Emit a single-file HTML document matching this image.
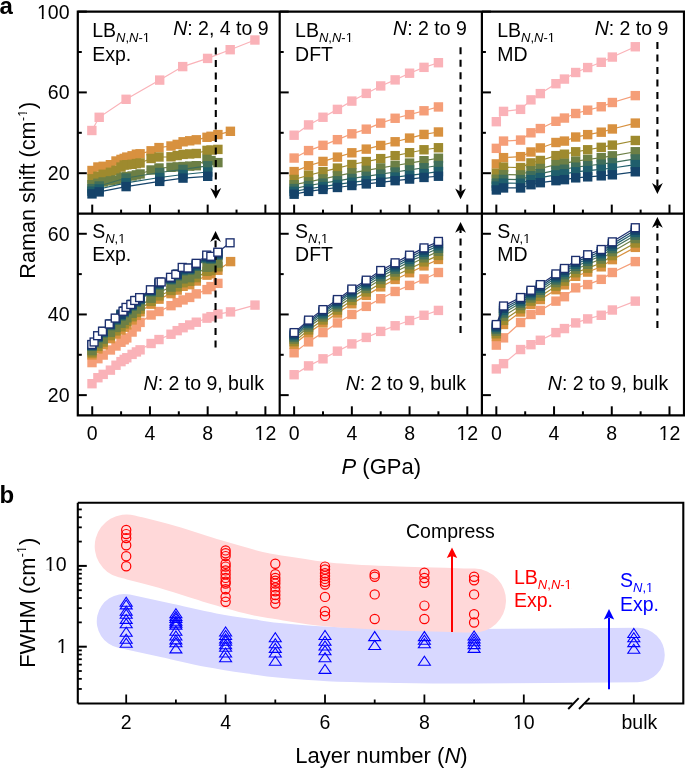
<!DOCTYPE html><html><head><meta charset="utf-8"><style>html,body{margin:0;padding:0;background:#fff;width:685px;height:768px;overflow:hidden}</style></head><body><svg width="685" height="768" viewBox="0 0 685 768" style="position:absolute;left:0;top:0;will-change:transform;font-family:'Liberation Sans',sans-serif">
<rect width="685" height="768" fill="#fff"/>
<path d="M91.86,130.50 L99.20,117.30 L126.10,99.30 L159.70,80.10 L182.70,66.60 L207.60,58.40 L230.20,49.70 L254.90,40.00" fill="none" stroke="#FAB2B8" stroke-width="1.2"/>
<rect x="87.16" y="125.80" width="9.40" height="9.40" fill="#FAB2B8"/>
<rect x="94.50" y="112.60" width="9.40" height="9.40" fill="#FAB2B8"/>
<rect x="121.40" y="94.60" width="9.40" height="9.40" fill="#FAB2B8"/>
<rect x="155.00" y="75.40" width="9.40" height="9.40" fill="#FAB2B8"/>
<rect x="178.00" y="61.90" width="9.40" height="9.40" fill="#FAB2B8"/>
<rect x="202.90" y="53.70" width="9.40" height="9.40" fill="#FAB2B8"/>
<rect x="225.50" y="45.00" width="9.40" height="9.40" fill="#FAB2B8"/>
<rect x="250.20" y="35.30" width="9.40" height="9.40" fill="#FAB2B8"/>
<path d="M92.00,170.50 L97.90,167.00 L103.20,166.30 L110.40,164.70 L116.00,161.00 L121.00,159.41 L124.20,158.40 L126.80,157.10 L132.10,155.80 L136.40,154.20 L140.10,153.80 L151.10,150.80 L159.00,147.60 L171.00,146.00 L177.20,144.40 L183.10,141.80 L189.70,140.80 L196.30,139.80 L207.00,137.30 L211.00,136.31 L217.90,134.60 L230.40,131.30" fill="none" stroke="#D8913F" stroke-width="1.2"/>
<rect x="87.30" y="165.80" width="9.40" height="9.40" fill="#D8913F"/>
<rect x="93.20" y="162.30" width="9.40" height="9.40" fill="#D8913F"/>
<rect x="98.50" y="161.60" width="9.40" height="9.40" fill="#D8913F"/>
<rect x="105.70" y="160.00" width="9.40" height="9.40" fill="#D8913F"/>
<rect x="111.30" y="156.30" width="9.40" height="9.40" fill="#D8913F"/>
<rect x="116.30" y="154.71" width="9.40" height="9.40" fill="#D8913F"/>
<rect x="119.50" y="153.70" width="9.40" height="9.40" fill="#D8913F"/>
<rect x="122.10" y="152.40" width="9.40" height="9.40" fill="#D8913F"/>
<rect x="127.40" y="151.10" width="9.40" height="9.40" fill="#D8913F"/>
<rect x="131.70" y="149.50" width="9.40" height="9.40" fill="#D8913F"/>
<rect x="135.40" y="149.10" width="9.40" height="9.40" fill="#D8913F"/>
<rect x="146.40" y="146.10" width="9.40" height="9.40" fill="#D8913F"/>
<rect x="154.30" y="142.90" width="9.40" height="9.40" fill="#D8913F"/>
<rect x="166.30" y="141.30" width="9.40" height="9.40" fill="#D8913F"/>
<rect x="172.50" y="139.70" width="9.40" height="9.40" fill="#D8913F"/>
<rect x="178.40" y="137.10" width="9.40" height="9.40" fill="#D8913F"/>
<rect x="185.00" y="136.10" width="9.40" height="9.40" fill="#D8913F"/>
<rect x="191.60" y="135.10" width="9.40" height="9.40" fill="#D8913F"/>
<rect x="202.30" y="132.60" width="9.40" height="9.40" fill="#D8913F"/>
<rect x="206.30" y="131.61" width="9.40" height="9.40" fill="#D8913F"/>
<rect x="213.20" y="129.90" width="9.40" height="9.40" fill="#D8913F"/>
<rect x="225.70" y="126.60" width="9.40" height="9.40" fill="#D8913F"/>
<path d="M92.00,178.80 L97.90,176.30 L103.20,174.30 L110.40,172.30 L116.00,170.30 L121.00,167.07 L124.20,165.00 L126.80,164.77 L132.10,164.30 L136.40,163.60 L140.10,163.00 L151.10,158.50 L159.00,157.00 L171.00,156.80 L177.20,155.57 L183.10,154.40 L189.70,153.95 L196.30,153.50 L207.00,150.40 L211.00,150.03 L217.90,149.40" fill="none" stroke="#9E8A2E" stroke-width="1.2"/>
<rect x="87.30" y="174.10" width="9.40" height="9.40" fill="#9E8A2E"/>
<rect x="93.20" y="171.60" width="9.40" height="9.40" fill="#9E8A2E"/>
<rect x="98.50" y="169.60" width="9.40" height="9.40" fill="#9E8A2E"/>
<rect x="105.70" y="167.60" width="9.40" height="9.40" fill="#9E8A2E"/>
<rect x="111.30" y="165.60" width="9.40" height="9.40" fill="#9E8A2E"/>
<rect x="116.30" y="162.37" width="9.40" height="9.40" fill="#9E8A2E"/>
<rect x="119.50" y="160.30" width="9.40" height="9.40" fill="#9E8A2E"/>
<rect x="122.10" y="160.07" width="9.40" height="9.40" fill="#9E8A2E"/>
<rect x="127.40" y="159.60" width="9.40" height="9.40" fill="#9E8A2E"/>
<rect x="131.70" y="158.90" width="9.40" height="9.40" fill="#9E8A2E"/>
<rect x="135.40" y="158.30" width="9.40" height="9.40" fill="#9E8A2E"/>
<rect x="146.40" y="153.80" width="9.40" height="9.40" fill="#9E8A2E"/>
<rect x="154.30" y="152.30" width="9.40" height="9.40" fill="#9E8A2E"/>
<rect x="166.30" y="152.10" width="9.40" height="9.40" fill="#9E8A2E"/>
<rect x="172.50" y="150.87" width="9.40" height="9.40" fill="#9E8A2E"/>
<rect x="178.40" y="149.70" width="9.40" height="9.40" fill="#9E8A2E"/>
<rect x="185.00" y="149.25" width="9.40" height="9.40" fill="#9E8A2E"/>
<rect x="191.60" y="148.80" width="9.40" height="9.40" fill="#9E8A2E"/>
<rect x="202.30" y="145.70" width="9.40" height="9.40" fill="#9E8A2E"/>
<rect x="206.30" y="145.33" width="9.40" height="9.40" fill="#9E8A2E"/>
<rect x="213.20" y="144.70" width="9.40" height="9.40" fill="#9E8A2E"/>
<path d="M92.00,184.70 L97.90,183.25 L103.20,181.97 L110.40,180.86 L116.00,180.00 L121.00,178.12 L124.20,176.97 L126.80,176.65 L132.10,175.97 L136.40,174.90 L140.10,173.96 L151.10,169.97 L159.00,168.00 L171.00,167.30 L177.20,166.91 L183.10,166.53 L189.70,166.12 L196.30,165.70 L207.00,159.40 L211.00,160.57 L217.90,162.60" fill="none" stroke="#6C7F45" stroke-width="1.2"/>
<rect x="87.30" y="180.00" width="9.40" height="9.40" fill="#6C7F45"/>
<rect x="93.20" y="178.55" width="9.40" height="9.40" fill="#6C7F45"/>
<rect x="98.50" y="177.27" width="9.40" height="9.40" fill="#6C7F45"/>
<rect x="105.70" y="176.16" width="9.40" height="9.40" fill="#6C7F45"/>
<rect x="111.30" y="175.30" width="9.40" height="9.40" fill="#6C7F45"/>
<rect x="116.30" y="173.43" width="9.40" height="9.40" fill="#6C7F45"/>
<rect x="119.50" y="172.28" width="9.40" height="9.40" fill="#6C7F45"/>
<rect x="122.10" y="171.95" width="9.40" height="9.40" fill="#6C7F45"/>
<rect x="127.40" y="171.28" width="9.40" height="9.40" fill="#6C7F45"/>
<rect x="131.70" y="170.20" width="9.40" height="9.40" fill="#6C7F45"/>
<rect x="135.40" y="169.26" width="9.40" height="9.40" fill="#6C7F45"/>
<rect x="146.40" y="165.28" width="9.40" height="9.40" fill="#6C7F45"/>
<rect x="154.30" y="163.30" width="9.40" height="9.40" fill="#6C7F45"/>
<rect x="166.30" y="162.60" width="9.40" height="9.40" fill="#6C7F45"/>
<rect x="172.50" y="162.21" width="9.40" height="9.40" fill="#6C7F45"/>
<rect x="178.40" y="161.83" width="9.40" height="9.40" fill="#6C7F45"/>
<rect x="185.00" y="161.42" width="9.40" height="9.40" fill="#6C7F45"/>
<rect x="191.60" y="161.00" width="9.40" height="9.40" fill="#6C7F45"/>
<rect x="202.30" y="154.70" width="9.40" height="9.40" fill="#6C7F45"/>
<rect x="206.30" y="155.87" width="9.40" height="9.40" fill="#6C7F45"/>
<rect x="213.20" y="157.90" width="9.40" height="9.40" fill="#6C7F45"/>
<path d="M92.00,188.60 L99.20,186.00 L126.10,178.00 L159.70,172.50 L183.00,169.40 L207.70,165.80" fill="none" stroke="#3F6E5B" stroke-width="1.2"/>
<rect x="87.30" y="183.90" width="9.40" height="9.40" fill="#3F6E5B"/>
<rect x="94.50" y="181.30" width="9.40" height="9.40" fill="#3F6E5B"/>
<rect x="121.40" y="173.30" width="9.40" height="9.40" fill="#3F6E5B"/>
<rect x="155.00" y="167.80" width="9.40" height="9.40" fill="#3F6E5B"/>
<rect x="178.30" y="164.70" width="9.40" height="9.40" fill="#3F6E5B"/>
<rect x="203.00" y="161.10" width="9.40" height="9.40" fill="#3F6E5B"/>
<path d="M92.00,191.20 L99.20,189.00 L126.10,182.80 L159.70,177.50 L183.00,174.50 L207.70,172.00" fill="none" stroke="#1F5E6C" stroke-width="1.2"/>
<rect x="87.30" y="186.50" width="9.40" height="9.40" fill="#1F5E6C"/>
<rect x="94.50" y="184.30" width="9.40" height="9.40" fill="#1F5E6C"/>
<rect x="121.40" y="178.10" width="9.40" height="9.40" fill="#1F5E6C"/>
<rect x="155.00" y="172.80" width="9.40" height="9.40" fill="#1F5E6C"/>
<rect x="178.30" y="169.80" width="9.40" height="9.40" fill="#1F5E6C"/>
<rect x="203.00" y="167.30" width="9.40" height="9.40" fill="#1F5E6C"/>
<path d="M92.00,193.90 L99.20,191.90 L126.10,186.60 L159.70,181.40 L183.00,178.10 L207.70,176.30" fill="none" stroke="#15436A" stroke-width="1.2"/>
<rect x="87.30" y="189.20" width="9.40" height="9.40" fill="#15436A"/>
<rect x="94.50" y="187.20" width="9.40" height="9.40" fill="#15436A"/>
<rect x="121.40" y="181.90" width="9.40" height="9.40" fill="#15436A"/>
<rect x="155.00" y="176.70" width="9.40" height="9.40" fill="#15436A"/>
<rect x="178.30" y="173.40" width="9.40" height="9.40" fill="#15436A"/>
<rect x="203.00" y="171.60" width="9.40" height="9.40" fill="#15436A"/>
<path d="M294.13,135.22 L308.56,124.92 L322.99,117.25 L337.42,109.37 L351.85,101.09 L366.28,93.41 L380.71,85.94 L395.14,79.88 L409.57,73.21 L424.00,67.35 L438.43,62.71" fill="none" stroke="#FAB2B8" stroke-width="1.2"/>
<rect x="289.43" y="130.52" width="9.40" height="9.40" fill="#FAB2B8"/>
<rect x="303.86" y="120.22" width="9.40" height="9.40" fill="#FAB2B8"/>
<rect x="318.29" y="112.55" width="9.40" height="9.40" fill="#FAB2B8"/>
<rect x="332.72" y="104.67" width="9.40" height="9.40" fill="#FAB2B8"/>
<rect x="347.15" y="96.39" width="9.40" height="9.40" fill="#FAB2B8"/>
<rect x="361.58" y="88.71" width="9.40" height="9.40" fill="#FAB2B8"/>
<rect x="376.01" y="81.24" width="9.40" height="9.40" fill="#FAB2B8"/>
<rect x="390.44" y="75.18" width="9.40" height="9.40" fill="#FAB2B8"/>
<rect x="404.87" y="68.51" width="9.40" height="9.40" fill="#FAB2B8"/>
<rect x="419.30" y="62.65" width="9.40" height="9.40" fill="#FAB2B8"/>
<rect x="433.73" y="58.01" width="9.40" height="9.40" fill="#FAB2B8"/>
<path d="M294.13,158.05 L308.56,150.58 L322.99,145.32 L337.42,139.67 L351.85,133.81 L366.28,129.16 L380.71,123.10 L395.14,118.26 L409.57,114.62 L424.00,110.78 L438.43,106.94" fill="none" stroke="#F59E78" stroke-width="1.2"/>
<rect x="289.43" y="153.35" width="9.40" height="9.40" fill="#F59E78"/>
<rect x="303.86" y="145.88" width="9.40" height="9.40" fill="#F59E78"/>
<rect x="318.29" y="140.62" width="9.40" height="9.40" fill="#F59E78"/>
<rect x="332.72" y="134.97" width="9.40" height="9.40" fill="#F59E78"/>
<rect x="347.15" y="129.11" width="9.40" height="9.40" fill="#F59E78"/>
<rect x="361.58" y="124.46" width="9.40" height="9.40" fill="#F59E78"/>
<rect x="376.01" y="118.40" width="9.40" height="9.40" fill="#F59E78"/>
<rect x="390.44" y="113.56" width="9.40" height="9.40" fill="#F59E78"/>
<rect x="404.87" y="109.92" width="9.40" height="9.40" fill="#F59E78"/>
<rect x="419.30" y="106.08" width="9.40" height="9.40" fill="#F59E78"/>
<rect x="433.73" y="102.24" width="9.40" height="9.40" fill="#F59E78"/>
<path d="M294.13,171.58 L308.56,165.73 L322.99,161.42 L337.42,157.11 L351.85,152.80 L366.28,149.12 L380.71,145.45 L395.14,141.77 L409.57,138.09 L424.00,134.42 L438.43,131.99" fill="none" stroke="#D8913F" stroke-width="1.2"/>
<rect x="289.43" y="166.88" width="9.40" height="9.40" fill="#D8913F"/>
<rect x="303.86" y="161.03" width="9.40" height="9.40" fill="#D8913F"/>
<rect x="318.29" y="156.72" width="9.40" height="9.40" fill="#D8913F"/>
<rect x="332.72" y="152.41" width="9.40" height="9.40" fill="#D8913F"/>
<rect x="347.15" y="148.10" width="9.40" height="9.40" fill="#D8913F"/>
<rect x="361.58" y="144.42" width="9.40" height="9.40" fill="#D8913F"/>
<rect x="376.01" y="140.75" width="9.40" height="9.40" fill="#D8913F"/>
<rect x="390.44" y="137.07" width="9.40" height="9.40" fill="#D8913F"/>
<rect x="404.87" y="133.39" width="9.40" height="9.40" fill="#D8913F"/>
<rect x="419.30" y="129.72" width="9.40" height="9.40" fill="#D8913F"/>
<rect x="433.73" y="127.29" width="9.40" height="9.40" fill="#D8913F"/>
<path d="M294.13,179.46 L308.56,175.22 L322.99,171.65 L337.42,168.08 L351.85,164.51 L366.28,161.56 L380.71,158.62 L395.14,155.67 L409.57,152.72 L424.00,149.77 L438.43,147.75" fill="none" stroke="#9E8A2E" stroke-width="1.2"/>
<rect x="289.43" y="174.76" width="9.40" height="9.40" fill="#9E8A2E"/>
<rect x="303.86" y="170.52" width="9.40" height="9.40" fill="#9E8A2E"/>
<rect x="318.29" y="166.95" width="9.40" height="9.40" fill="#9E8A2E"/>
<rect x="332.72" y="163.38" width="9.40" height="9.40" fill="#9E8A2E"/>
<rect x="347.15" y="159.81" width="9.40" height="9.40" fill="#9E8A2E"/>
<rect x="361.58" y="156.86" width="9.40" height="9.40" fill="#9E8A2E"/>
<rect x="376.01" y="153.92" width="9.40" height="9.40" fill="#9E8A2E"/>
<rect x="390.44" y="150.97" width="9.40" height="9.40" fill="#9E8A2E"/>
<rect x="404.87" y="148.02" width="9.40" height="9.40" fill="#9E8A2E"/>
<rect x="419.30" y="145.07" width="9.40" height="9.40" fill="#9E8A2E"/>
<rect x="433.73" y="143.05" width="9.40" height="9.40" fill="#9E8A2E"/>
<path d="M294.13,184.71 L308.56,181.89 L322.99,178.86 L337.42,175.83 L351.85,172.80 L366.28,170.37 L380.71,167.95 L395.14,165.52 L409.57,163.10 L424.00,160.68 L438.43,158.25" fill="none" stroke="#6C7F45" stroke-width="1.2"/>
<rect x="289.43" y="180.01" width="9.40" height="9.40" fill="#6C7F45"/>
<rect x="303.86" y="177.19" width="9.40" height="9.40" fill="#6C7F45"/>
<rect x="318.29" y="174.16" width="9.40" height="9.40" fill="#6C7F45"/>
<rect x="332.72" y="171.13" width="9.40" height="9.40" fill="#6C7F45"/>
<rect x="347.15" y="168.10" width="9.40" height="9.40" fill="#6C7F45"/>
<rect x="361.58" y="165.67" width="9.40" height="9.40" fill="#6C7F45"/>
<rect x="376.01" y="163.25" width="9.40" height="9.40" fill="#6C7F45"/>
<rect x="390.44" y="160.82" width="9.40" height="9.40" fill="#6C7F45"/>
<rect x="404.87" y="158.40" width="9.40" height="9.40" fill="#6C7F45"/>
<rect x="419.30" y="155.98" width="9.40" height="9.40" fill="#6C7F45"/>
<rect x="433.73" y="153.55" width="9.40" height="9.40" fill="#6C7F45"/>
<path d="M294.13,188.55 L308.56,185.52 L322.99,183.17 L337.42,180.81 L351.85,178.45 L366.28,176.31 L380.71,174.17 L395.14,172.03 L409.57,169.89 L424.00,167.75 L438.43,165.52" fill="none" stroke="#3F6E5B" stroke-width="1.2"/>
<rect x="289.43" y="183.85" width="9.40" height="9.40" fill="#3F6E5B"/>
<rect x="303.86" y="180.82" width="9.40" height="9.40" fill="#3F6E5B"/>
<rect x="318.29" y="178.47" width="9.40" height="9.40" fill="#3F6E5B"/>
<rect x="332.72" y="176.11" width="9.40" height="9.40" fill="#3F6E5B"/>
<rect x="347.15" y="173.75" width="9.40" height="9.40" fill="#3F6E5B"/>
<rect x="361.58" y="171.61" width="9.40" height="9.40" fill="#3F6E5B"/>
<rect x="376.01" y="169.47" width="9.40" height="9.40" fill="#3F6E5B"/>
<rect x="390.44" y="167.33" width="9.40" height="9.40" fill="#3F6E5B"/>
<rect x="404.87" y="165.19" width="9.40" height="9.40" fill="#3F6E5B"/>
<rect x="419.30" y="163.05" width="9.40" height="9.40" fill="#3F6E5B"/>
<rect x="433.73" y="160.82" width="9.40" height="9.40" fill="#3F6E5B"/>
<path d="M294.13,191.38 L308.56,188.75 L322.99,186.60 L337.42,184.44 L351.85,182.29 L366.28,180.55 L380.71,178.82 L395.14,177.08 L409.57,175.34 L424.00,173.60 L438.43,171.58" fill="none" stroke="#1F5E6C" stroke-width="1.2"/>
<rect x="289.43" y="186.68" width="9.40" height="9.40" fill="#1F5E6C"/>
<rect x="303.86" y="184.05" width="9.40" height="9.40" fill="#1F5E6C"/>
<rect x="318.29" y="181.90" width="9.40" height="9.40" fill="#1F5E6C"/>
<rect x="332.72" y="179.74" width="9.40" height="9.40" fill="#1F5E6C"/>
<rect x="347.15" y="177.59" width="9.40" height="9.40" fill="#1F5E6C"/>
<rect x="361.58" y="175.85" width="9.40" height="9.40" fill="#1F5E6C"/>
<rect x="376.01" y="174.12" width="9.40" height="9.40" fill="#1F5E6C"/>
<rect x="390.44" y="172.38" width="9.40" height="9.40" fill="#1F5E6C"/>
<rect x="404.87" y="170.64" width="9.40" height="9.40" fill="#1F5E6C"/>
<rect x="419.30" y="168.90" width="9.40" height="9.40" fill="#1F5E6C"/>
<rect x="433.73" y="166.88" width="9.40" height="9.40" fill="#1F5E6C"/>
<path d="M294.13,194.21 L308.56,191.38 L322.99,189.43 L337.42,187.47 L351.85,185.52 L366.28,183.91 L380.71,182.29 L395.14,180.67 L409.57,179.06 L424.00,177.44 L438.43,176.23" fill="none" stroke="#15436A" stroke-width="1.2"/>
<rect x="289.43" y="189.51" width="9.40" height="9.40" fill="#15436A"/>
<rect x="303.86" y="186.68" width="9.40" height="9.40" fill="#15436A"/>
<rect x="318.29" y="184.73" width="9.40" height="9.40" fill="#15436A"/>
<rect x="332.72" y="182.77" width="9.40" height="9.40" fill="#15436A"/>
<rect x="347.15" y="180.82" width="9.40" height="9.40" fill="#15436A"/>
<rect x="361.58" y="179.21" width="9.40" height="9.40" fill="#15436A"/>
<rect x="376.01" y="177.59" width="9.40" height="9.40" fill="#15436A"/>
<rect x="390.44" y="175.97" width="9.40" height="9.40" fill="#15436A"/>
<rect x="404.87" y="174.36" width="9.40" height="9.40" fill="#15436A"/>
<rect x="419.30" y="172.74" width="9.40" height="9.40" fill="#15436A"/>
<rect x="433.73" y="171.53" width="9.40" height="9.40" fill="#15436A"/>
<path d="M496.33,121.69 L503.54,111.39 L520.57,109.37 L530.96,99.87 L540.34,93.61 L555.93,83.71 L564.44,79.07 L575.69,72.50 L587.67,67.55 L601.24,62.30 L612.35,57.05 L635.29,46.75" fill="none" stroke="#FAB2B8" stroke-width="1.2"/>
<rect x="491.63" y="116.99" width="9.40" height="9.40" fill="#FAB2B8"/>
<rect x="498.84" y="106.69" width="9.40" height="9.40" fill="#FAB2B8"/>
<rect x="515.87" y="104.67" width="9.40" height="9.40" fill="#FAB2B8"/>
<rect x="526.26" y="95.17" width="9.40" height="9.40" fill="#FAB2B8"/>
<rect x="535.64" y="88.91" width="9.40" height="9.40" fill="#FAB2B8"/>
<rect x="551.23" y="79.01" width="9.40" height="9.40" fill="#FAB2B8"/>
<rect x="559.74" y="74.37" width="9.40" height="9.40" fill="#FAB2B8"/>
<rect x="570.99" y="67.80" width="9.40" height="9.40" fill="#FAB2B8"/>
<rect x="582.97" y="62.85" width="9.40" height="9.40" fill="#FAB2B8"/>
<rect x="596.54" y="57.60" width="9.40" height="9.40" fill="#FAB2B8"/>
<rect x="607.65" y="52.35" width="9.40" height="9.40" fill="#FAB2B8"/>
<rect x="630.59" y="42.05" width="9.40" height="9.40" fill="#FAB2B8"/>
<path d="M496.33,148.35 L503.54,141.08 L520.57,140.07 L530.96,132.80 L540.34,128.56 L555.93,121.29 L564.44,118.05 L575.69,113.51 L587.67,110.18 L601.24,106.74 L612.35,102.50 L635.29,95.63" fill="none" stroke="#F59E78" stroke-width="1.2"/>
<rect x="491.63" y="143.65" width="9.40" height="9.40" fill="#F59E78"/>
<rect x="498.84" y="136.38" width="9.40" height="9.40" fill="#F59E78"/>
<rect x="515.87" y="135.37" width="9.40" height="9.40" fill="#F59E78"/>
<rect x="526.26" y="128.10" width="9.40" height="9.40" fill="#F59E78"/>
<rect x="535.64" y="123.86" width="9.40" height="9.40" fill="#F59E78"/>
<rect x="551.23" y="116.59" width="9.40" height="9.40" fill="#F59E78"/>
<rect x="559.74" y="113.35" width="9.40" height="9.40" fill="#F59E78"/>
<rect x="570.99" y="108.81" width="9.40" height="9.40" fill="#F59E78"/>
<rect x="582.97" y="105.48" width="9.40" height="9.40" fill="#F59E78"/>
<rect x="596.54" y="102.04" width="9.40" height="9.40" fill="#F59E78"/>
<rect x="607.65" y="97.80" width="9.40" height="9.40" fill="#F59E78"/>
<rect x="630.59" y="90.93" width="9.40" height="9.40" fill="#F59E78"/>
<path d="M496.33,163.91 L503.54,157.65 L520.57,156.64 L530.96,151.99 L540.34,147.95 L555.93,142.50 L564.44,141.08 L575.69,137.04 L587.67,134.62 L601.24,132.19 L612.35,128.96 L635.29,123.10" fill="none" stroke="#D8913F" stroke-width="1.2"/>
<rect x="491.63" y="159.21" width="9.40" height="9.40" fill="#D8913F"/>
<rect x="498.84" y="152.95" width="9.40" height="9.40" fill="#D8913F"/>
<rect x="515.87" y="151.94" width="9.40" height="9.40" fill="#D8913F"/>
<rect x="526.26" y="147.29" width="9.40" height="9.40" fill="#D8913F"/>
<rect x="535.64" y="143.25" width="9.40" height="9.40" fill="#D8913F"/>
<rect x="551.23" y="137.80" width="9.40" height="9.40" fill="#D8913F"/>
<rect x="559.74" y="136.38" width="9.40" height="9.40" fill="#D8913F"/>
<rect x="570.99" y="132.34" width="9.40" height="9.40" fill="#D8913F"/>
<rect x="582.97" y="129.92" width="9.40" height="9.40" fill="#D8913F"/>
<rect x="596.54" y="127.49" width="9.40" height="9.40" fill="#D8913F"/>
<rect x="607.65" y="124.26" width="9.40" height="9.40" fill="#D8913F"/>
<rect x="630.59" y="118.40" width="9.40" height="9.40" fill="#D8913F"/>
<path d="M496.33,173.20 L503.54,167.14 L520.57,167.54 L530.96,162.90 L540.34,160.47 L555.93,155.63 L564.44,154.21 L575.69,151.79 L587.67,149.77 L601.24,147.34 L612.35,145.12 L635.29,140.48" fill="none" stroke="#9E8A2E" stroke-width="1.2"/>
<rect x="491.63" y="168.50" width="9.40" height="9.40" fill="#9E8A2E"/>
<rect x="498.84" y="162.44" width="9.40" height="9.40" fill="#9E8A2E"/>
<rect x="515.87" y="162.84" width="9.40" height="9.40" fill="#9E8A2E"/>
<rect x="526.26" y="158.20" width="9.40" height="9.40" fill="#9E8A2E"/>
<rect x="535.64" y="155.77" width="9.40" height="9.40" fill="#9E8A2E"/>
<rect x="551.23" y="150.93" width="9.40" height="9.40" fill="#9E8A2E"/>
<rect x="559.74" y="149.51" width="9.40" height="9.40" fill="#9E8A2E"/>
<rect x="570.99" y="147.09" width="9.40" height="9.40" fill="#9E8A2E"/>
<rect x="582.97" y="145.07" width="9.40" height="9.40" fill="#9E8A2E"/>
<rect x="596.54" y="142.64" width="9.40" height="9.40" fill="#9E8A2E"/>
<rect x="607.65" y="140.42" width="9.40" height="9.40" fill="#9E8A2E"/>
<rect x="630.59" y="135.78" width="9.40" height="9.40" fill="#9E8A2E"/>
<path d="M496.33,179.24 L503.54,174.63 L520.57,174.89 L530.96,170.75 L540.34,168.47 L555.93,164.64 L564.44,163.37 L575.69,161.17 L587.67,159.51 L601.24,157.60 L612.35,155.81 L635.29,151.75" fill="none" stroke="#6C7F45" stroke-width="1.2"/>
<rect x="491.63" y="174.54" width="9.40" height="9.40" fill="#6C7F45"/>
<rect x="498.84" y="169.93" width="9.40" height="9.40" fill="#6C7F45"/>
<rect x="515.87" y="170.19" width="9.40" height="9.40" fill="#6C7F45"/>
<rect x="526.26" y="166.05" width="9.40" height="9.40" fill="#6C7F45"/>
<rect x="535.64" y="163.77" width="9.40" height="9.40" fill="#6C7F45"/>
<rect x="551.23" y="159.94" width="9.40" height="9.40" fill="#6C7F45"/>
<rect x="559.74" y="158.67" width="9.40" height="9.40" fill="#6C7F45"/>
<rect x="570.99" y="156.47" width="9.40" height="9.40" fill="#6C7F45"/>
<rect x="582.97" y="154.81" width="9.40" height="9.40" fill="#6C7F45"/>
<rect x="596.54" y="152.90" width="9.40" height="9.40" fill="#6C7F45"/>
<rect x="607.65" y="151.11" width="9.40" height="9.40" fill="#6C7F45"/>
<rect x="630.59" y="147.05" width="9.40" height="9.40" fill="#6C7F45"/>
<path d="M496.33,183.09 L503.54,179.42 L520.57,179.58 L530.96,175.77 L540.34,173.58 L555.93,170.40 L564.44,169.23 L575.69,167.16 L587.67,165.74 L601.24,164.15 L612.35,162.64 L635.29,158.95" fill="none" stroke="#3F6E5B" stroke-width="1.2"/>
<rect x="491.63" y="178.39" width="9.40" height="9.40" fill="#3F6E5B"/>
<rect x="498.84" y="174.72" width="9.40" height="9.40" fill="#3F6E5B"/>
<rect x="515.87" y="174.88" width="9.40" height="9.40" fill="#3F6E5B"/>
<rect x="526.26" y="171.07" width="9.40" height="9.40" fill="#3F6E5B"/>
<rect x="535.64" y="168.88" width="9.40" height="9.40" fill="#3F6E5B"/>
<rect x="551.23" y="165.70" width="9.40" height="9.40" fill="#3F6E5B"/>
<rect x="559.74" y="164.53" width="9.40" height="9.40" fill="#3F6E5B"/>
<rect x="570.99" y="162.46" width="9.40" height="9.40" fill="#3F6E5B"/>
<rect x="582.97" y="161.04" width="9.40" height="9.40" fill="#3F6E5B"/>
<rect x="596.54" y="159.45" width="9.40" height="9.40" fill="#3F6E5B"/>
<rect x="607.65" y="157.94" width="9.40" height="9.40" fill="#3F6E5B"/>
<rect x="630.59" y="154.25" width="9.40" height="9.40" fill="#3F6E5B"/>
<path d="M496.33,186.11 L503.54,183.16 L520.57,183.25 L530.96,179.70 L540.34,177.58 L555.93,174.91 L564.44,173.81 L575.69,171.85 L587.67,170.61 L601.24,169.28 L612.35,167.99 L635.29,164.58" fill="none" stroke="#1F5E6C" stroke-width="1.2"/>
<rect x="491.63" y="181.41" width="9.40" height="9.40" fill="#1F5E6C"/>
<rect x="498.84" y="178.46" width="9.40" height="9.40" fill="#1F5E6C"/>
<rect x="515.87" y="178.55" width="9.40" height="9.40" fill="#1F5E6C"/>
<rect x="526.26" y="175.00" width="9.40" height="9.40" fill="#1F5E6C"/>
<rect x="535.64" y="172.88" width="9.40" height="9.40" fill="#1F5E6C"/>
<rect x="551.23" y="170.21" width="9.40" height="9.40" fill="#1F5E6C"/>
<rect x="559.74" y="169.11" width="9.40" height="9.40" fill="#1F5E6C"/>
<rect x="570.99" y="167.15" width="9.40" height="9.40" fill="#1F5E6C"/>
<rect x="582.97" y="165.91" width="9.40" height="9.40" fill="#1F5E6C"/>
<rect x="596.54" y="164.58" width="9.40" height="9.40" fill="#1F5E6C"/>
<rect x="607.65" y="163.29" width="9.40" height="9.40" fill="#1F5E6C"/>
<rect x="630.59" y="159.88" width="9.40" height="9.40" fill="#1F5E6C"/>
<path d="M496.33,189.97 L503.54,187.95 L520.57,187.95 L530.96,184.71 L540.34,182.69 L555.93,180.67 L564.44,179.66 L575.69,177.85 L587.67,176.84 L601.24,175.83 L612.35,174.82 L635.29,171.79" fill="none" stroke="#15436A" stroke-width="1.2"/>
<rect x="491.63" y="185.27" width="9.40" height="9.40" fill="#15436A"/>
<rect x="498.84" y="183.25" width="9.40" height="9.40" fill="#15436A"/>
<rect x="515.87" y="183.25" width="9.40" height="9.40" fill="#15436A"/>
<rect x="526.26" y="180.01" width="9.40" height="9.40" fill="#15436A"/>
<rect x="535.64" y="177.99" width="9.40" height="9.40" fill="#15436A"/>
<rect x="551.23" y="175.97" width="9.40" height="9.40" fill="#15436A"/>
<rect x="559.74" y="174.96" width="9.40" height="9.40" fill="#15436A"/>
<rect x="570.99" y="173.15" width="9.40" height="9.40" fill="#15436A"/>
<rect x="582.97" y="172.14" width="9.40" height="9.40" fill="#15436A"/>
<rect x="596.54" y="171.13" width="9.40" height="9.40" fill="#15436A"/>
<rect x="607.65" y="170.12" width="9.40" height="9.40" fill="#15436A"/>
<rect x="630.59" y="167.09" width="9.40" height="9.40" fill="#15436A"/>
<path d="M92.00,383.70 L97.90,377.72 L103.20,374.37 L110.40,370.14 L116.00,365.24 L121.00,361.63 L124.20,359.41 L126.80,357.75 L132.10,354.39 L136.40,351.94 L140.10,349.84 L151.10,343.50 L159.00,339.55 L171.00,334.23 L177.20,330.64 L183.10,327.71 L189.70,324.96 L196.30,322.21 L207.00,318.15 L211.00,316.64 L217.90,314.04 L230.50,311.90 L255.00,305.10" fill="none" stroke="#FAB2B8" stroke-width="1.2"/>
<rect x="87.30" y="379.00" width="9.40" height="9.40" fill="#FAB2B8"/>
<rect x="93.20" y="373.02" width="9.40" height="9.40" fill="#FAB2B8"/>
<rect x="98.50" y="369.67" width="9.40" height="9.40" fill="#FAB2B8"/>
<rect x="105.70" y="365.44" width="9.40" height="9.40" fill="#FAB2B8"/>
<rect x="111.30" y="360.54" width="9.40" height="9.40" fill="#FAB2B8"/>
<rect x="116.30" y="356.93" width="9.40" height="9.40" fill="#FAB2B8"/>
<rect x="119.50" y="354.71" width="9.40" height="9.40" fill="#FAB2B8"/>
<rect x="122.10" y="353.05" width="9.40" height="9.40" fill="#FAB2B8"/>
<rect x="127.40" y="349.69" width="9.40" height="9.40" fill="#FAB2B8"/>
<rect x="131.70" y="347.24" width="9.40" height="9.40" fill="#FAB2B8"/>
<rect x="135.40" y="345.14" width="9.40" height="9.40" fill="#FAB2B8"/>
<rect x="146.40" y="338.80" width="9.40" height="9.40" fill="#FAB2B8"/>
<rect x="154.30" y="334.85" width="9.40" height="9.40" fill="#FAB2B8"/>
<rect x="166.30" y="329.53" width="9.40" height="9.40" fill="#FAB2B8"/>
<rect x="172.50" y="325.94" width="9.40" height="9.40" fill="#FAB2B8"/>
<rect x="178.40" y="323.01" width="9.40" height="9.40" fill="#FAB2B8"/>
<rect x="185.00" y="320.26" width="9.40" height="9.40" fill="#FAB2B8"/>
<rect x="191.60" y="317.51" width="9.40" height="9.40" fill="#FAB2B8"/>
<rect x="202.30" y="313.45" width="9.40" height="9.40" fill="#FAB2B8"/>
<rect x="206.30" y="311.94" width="9.40" height="9.40" fill="#FAB2B8"/>
<rect x="213.20" y="309.34" width="9.40" height="9.40" fill="#FAB2B8"/>
<rect x="225.80" y="307.20" width="9.40" height="9.40" fill="#FAB2B8"/>
<rect x="250.30" y="300.40" width="9.40" height="9.40" fill="#FAB2B8"/>
<path d="M92.00,362.60 L97.90,358.69 L103.20,355.05 L110.40,349.97 L116.00,346.00 L121.00,342.25 L124.20,339.85 L126.80,337.90 L132.10,332.05 L136.40,326.86 L140.10,322.40 L151.10,315.01 L159.00,311.50 L171.00,305.65 L177.20,302.58 L183.10,299.93 L189.70,297.43 L196.30,293.87 L207.00,289.60 L211.00,286.60 L217.90,283.34" fill="none" stroke="#F59E78" stroke-width="1.2"/>
<rect x="87.30" y="357.90" width="9.40" height="9.40" fill="#F59E78"/>
<rect x="93.20" y="353.99" width="9.40" height="9.40" fill="#F59E78"/>
<rect x="98.50" y="350.35" width="9.40" height="9.40" fill="#F59E78"/>
<rect x="105.70" y="345.27" width="9.40" height="9.40" fill="#F59E78"/>
<rect x="111.30" y="341.30" width="9.40" height="9.40" fill="#F59E78"/>
<rect x="116.30" y="337.55" width="9.40" height="9.40" fill="#F59E78"/>
<rect x="119.50" y="335.15" width="9.40" height="9.40" fill="#F59E78"/>
<rect x="122.10" y="333.20" width="9.40" height="9.40" fill="#F59E78"/>
<rect x="127.40" y="327.35" width="9.40" height="9.40" fill="#F59E78"/>
<rect x="131.70" y="322.16" width="9.40" height="9.40" fill="#F59E78"/>
<rect x="135.40" y="317.70" width="9.40" height="9.40" fill="#F59E78"/>
<rect x="146.40" y="310.31" width="9.40" height="9.40" fill="#F59E78"/>
<rect x="154.30" y="306.80" width="9.40" height="9.40" fill="#F59E78"/>
<rect x="166.30" y="300.95" width="9.40" height="9.40" fill="#F59E78"/>
<rect x="172.50" y="297.88" width="9.40" height="9.40" fill="#F59E78"/>
<rect x="178.40" y="295.23" width="9.40" height="9.40" fill="#F59E78"/>
<rect x="185.00" y="292.73" width="9.40" height="9.40" fill="#F59E78"/>
<rect x="191.60" y="289.17" width="9.40" height="9.40" fill="#F59E78"/>
<rect x="202.30" y="284.90" width="9.40" height="9.40" fill="#F59E78"/>
<rect x="206.30" y="281.90" width="9.40" height="9.40" fill="#F59E78"/>
<rect x="213.20" y="278.64" width="9.40" height="9.40" fill="#F59E78"/>
<path d="M92.00,354.91 L97.90,348.92 L103.20,344.72 L110.40,338.60 L116.00,333.99 L121.00,329.98 L124.20,327.20 L126.80,324.89 L132.10,319.92 L136.40,315.37 L140.10,311.83 L151.10,304.16 L159.00,299.15 L171.00,293.63 L177.20,290.10 L183.10,286.31 L189.70,284.66 L196.30,281.00 L207.00,275.15 L211.00,273.82 L217.90,270.23 L230.60,261.60" fill="none" stroke="#D8913F" stroke-width="1.2"/>
<rect x="87.30" y="350.21" width="9.40" height="9.40" fill="#D8913F"/>
<rect x="93.20" y="344.22" width="9.40" height="9.40" fill="#D8913F"/>
<rect x="98.50" y="340.02" width="9.40" height="9.40" fill="#D8913F"/>
<rect x="105.70" y="333.90" width="9.40" height="9.40" fill="#D8913F"/>
<rect x="111.30" y="329.29" width="9.40" height="9.40" fill="#D8913F"/>
<rect x="116.30" y="325.28" width="9.40" height="9.40" fill="#D8913F"/>
<rect x="119.50" y="322.50" width="9.40" height="9.40" fill="#D8913F"/>
<rect x="122.10" y="320.19" width="9.40" height="9.40" fill="#D8913F"/>
<rect x="127.40" y="315.22" width="9.40" height="9.40" fill="#D8913F"/>
<rect x="131.70" y="310.67" width="9.40" height="9.40" fill="#D8913F"/>
<rect x="135.40" y="307.13" width="9.40" height="9.40" fill="#D8913F"/>
<rect x="146.40" y="299.46" width="9.40" height="9.40" fill="#D8913F"/>
<rect x="154.30" y="294.45" width="9.40" height="9.40" fill="#D8913F"/>
<rect x="166.30" y="288.93" width="9.40" height="9.40" fill="#D8913F"/>
<rect x="172.50" y="285.40" width="9.40" height="9.40" fill="#D8913F"/>
<rect x="178.40" y="281.61" width="9.40" height="9.40" fill="#D8913F"/>
<rect x="185.00" y="279.96" width="9.40" height="9.40" fill="#D8913F"/>
<rect x="191.60" y="276.30" width="9.40" height="9.40" fill="#D8913F"/>
<rect x="202.30" y="270.45" width="9.40" height="9.40" fill="#D8913F"/>
<rect x="206.30" y="269.12" width="9.40" height="9.40" fill="#D8913F"/>
<rect x="213.20" y="265.53" width="9.40" height="9.40" fill="#D8913F"/>
<rect x="225.90" y="256.90" width="9.40" height="9.40" fill="#D8913F"/>
<path d="M92.00,352.89 L97.90,346.36 L103.20,342.02 L110.40,335.62 L116.00,330.84 L121.00,326.77 L124.20,323.89 L126.80,321.48 L132.10,316.74 L136.40,312.36 L140.10,309.06 L151.10,301.32 L159.00,295.91 L171.00,290.48 L177.20,286.83 L183.10,282.74 L189.70,281.32 L196.30,277.63 L207.00,271.36 L211.00,270.48 L217.90,266.79" fill="none" stroke="#9E8A2E" stroke-width="1.2"/>
<rect x="87.30" y="348.19" width="9.40" height="9.40" fill="#9E8A2E"/>
<rect x="93.20" y="341.66" width="9.40" height="9.40" fill="#9E8A2E"/>
<rect x="98.50" y="337.32" width="9.40" height="9.40" fill="#9E8A2E"/>
<rect x="105.70" y="330.92" width="9.40" height="9.40" fill="#9E8A2E"/>
<rect x="111.30" y="326.14" width="9.40" height="9.40" fill="#9E8A2E"/>
<rect x="116.30" y="322.07" width="9.40" height="9.40" fill="#9E8A2E"/>
<rect x="119.50" y="319.19" width="9.40" height="9.40" fill="#9E8A2E"/>
<rect x="122.10" y="316.78" width="9.40" height="9.40" fill="#9E8A2E"/>
<rect x="127.40" y="312.04" width="9.40" height="9.40" fill="#9E8A2E"/>
<rect x="131.70" y="307.66" width="9.40" height="9.40" fill="#9E8A2E"/>
<rect x="135.40" y="304.36" width="9.40" height="9.40" fill="#9E8A2E"/>
<rect x="146.40" y="296.62" width="9.40" height="9.40" fill="#9E8A2E"/>
<rect x="154.30" y="291.21" width="9.40" height="9.40" fill="#9E8A2E"/>
<rect x="166.30" y="285.78" width="9.40" height="9.40" fill="#9E8A2E"/>
<rect x="172.50" y="282.13" width="9.40" height="9.40" fill="#9E8A2E"/>
<rect x="178.40" y="278.04" width="9.40" height="9.40" fill="#9E8A2E"/>
<rect x="185.00" y="276.62" width="9.40" height="9.40" fill="#9E8A2E"/>
<rect x="191.60" y="272.93" width="9.40" height="9.40" fill="#9E8A2E"/>
<rect x="202.30" y="266.66" width="9.40" height="9.40" fill="#9E8A2E"/>
<rect x="206.30" y="265.78" width="9.40" height="9.40" fill="#9E8A2E"/>
<rect x="213.20" y="262.09" width="9.40" height="9.40" fill="#9E8A2E"/>
<path d="M92.00,350.69 L97.90,343.57 L103.20,339.07 L110.40,332.37 L116.00,327.41 L121.00,323.27 L124.20,320.28 L126.80,317.76 L132.10,313.28 L136.40,309.07 L140.10,306.05 L151.10,298.22 L159.00,292.38 L171.00,287.05 L177.20,283.27 L183.10,278.85 L189.70,277.67 L196.30,273.95 L207.00,267.23 L211.00,266.83 L217.90,263.05" fill="none" stroke="#6C7F45" stroke-width="1.2"/>
<rect x="87.30" y="345.99" width="9.40" height="9.40" fill="#6C7F45"/>
<rect x="93.20" y="338.87" width="9.40" height="9.40" fill="#6C7F45"/>
<rect x="98.50" y="334.37" width="9.40" height="9.40" fill="#6C7F45"/>
<rect x="105.70" y="327.67" width="9.40" height="9.40" fill="#6C7F45"/>
<rect x="111.30" y="322.71" width="9.40" height="9.40" fill="#6C7F45"/>
<rect x="116.30" y="318.57" width="9.40" height="9.40" fill="#6C7F45"/>
<rect x="119.50" y="315.58" width="9.40" height="9.40" fill="#6C7F45"/>
<rect x="122.10" y="313.06" width="9.40" height="9.40" fill="#6C7F45"/>
<rect x="127.40" y="308.58" width="9.40" height="9.40" fill="#6C7F45"/>
<rect x="131.70" y="304.37" width="9.40" height="9.40" fill="#6C7F45"/>
<rect x="135.40" y="301.35" width="9.40" height="9.40" fill="#6C7F45"/>
<rect x="146.40" y="293.52" width="9.40" height="9.40" fill="#6C7F45"/>
<rect x="154.30" y="287.68" width="9.40" height="9.40" fill="#6C7F45"/>
<rect x="166.30" y="282.35" width="9.40" height="9.40" fill="#6C7F45"/>
<rect x="172.50" y="278.57" width="9.40" height="9.40" fill="#6C7F45"/>
<rect x="178.40" y="274.15" width="9.40" height="9.40" fill="#6C7F45"/>
<rect x="185.00" y="272.97" width="9.40" height="9.40" fill="#6C7F45"/>
<rect x="191.60" y="269.25" width="9.40" height="9.40" fill="#6C7F45"/>
<rect x="202.30" y="262.53" width="9.40" height="9.40" fill="#6C7F45"/>
<rect x="206.30" y="262.13" width="9.40" height="9.40" fill="#6C7F45"/>
<rect x="213.20" y="258.35" width="9.40" height="9.40" fill="#6C7F45"/>
<path d="M92.00,346.11 L97.90,337.75 L103.20,332.92 L110.40,325.61 L116.00,320.26 L121.00,315.96 L124.20,312.75 L126.80,310.01 L132.10,306.06 L136.40,302.23 L140.10,299.76 L151.10,291.76 L159.00,285.03 L171.00,279.89 L177.20,275.84 L183.10,270.74 L189.70,270.07 L196.30,266.29 L207.00,258.63 L211.00,259.22 L217.90,255.24" fill="none" stroke="#3F6E5B" stroke-width="1.2"/>
<rect x="87.30" y="341.41" width="9.40" height="9.40" fill="#3F6E5B"/>
<rect x="93.20" y="333.05" width="9.40" height="9.40" fill="#3F6E5B"/>
<rect x="98.50" y="328.22" width="9.40" height="9.40" fill="#3F6E5B"/>
<rect x="105.70" y="320.91" width="9.40" height="9.40" fill="#3F6E5B"/>
<rect x="111.30" y="315.56" width="9.40" height="9.40" fill="#3F6E5B"/>
<rect x="116.30" y="311.26" width="9.40" height="9.40" fill="#3F6E5B"/>
<rect x="119.50" y="308.05" width="9.40" height="9.40" fill="#3F6E5B"/>
<rect x="122.10" y="305.31" width="9.40" height="9.40" fill="#3F6E5B"/>
<rect x="127.40" y="301.36" width="9.40" height="9.40" fill="#3F6E5B"/>
<rect x="131.70" y="297.53" width="9.40" height="9.40" fill="#3F6E5B"/>
<rect x="135.40" y="295.06" width="9.40" height="9.40" fill="#3F6E5B"/>
<rect x="146.40" y="287.06" width="9.40" height="9.40" fill="#3F6E5B"/>
<rect x="154.30" y="280.33" width="9.40" height="9.40" fill="#3F6E5B"/>
<rect x="166.30" y="275.19" width="9.40" height="9.40" fill="#3F6E5B"/>
<rect x="172.50" y="271.14" width="9.40" height="9.40" fill="#3F6E5B"/>
<rect x="178.40" y="266.04" width="9.40" height="9.40" fill="#3F6E5B"/>
<rect x="185.00" y="265.37" width="9.40" height="9.40" fill="#3F6E5B"/>
<rect x="191.60" y="261.59" width="9.40" height="9.40" fill="#3F6E5B"/>
<rect x="202.30" y="253.93" width="9.40" height="9.40" fill="#3F6E5B"/>
<rect x="206.30" y="254.52" width="9.40" height="9.40" fill="#3F6E5B"/>
<rect x="213.20" y="250.54" width="9.40" height="9.40" fill="#3F6E5B"/>
<path d="M92.00,345.56 L97.90,337.05 L103.20,332.18 L110.40,324.79 L116.00,319.40 L121.00,315.09 L124.20,311.85 L126.80,309.09 L132.10,305.19 L136.40,301.41 L140.10,299.00 L151.10,290.98 L159.00,284.15 L171.00,279.03 L177.20,274.95 L183.10,269.76 L189.70,269.15 L196.30,265.37 L207.00,257.60 L211.00,258.31 L217.90,254.31" fill="none" stroke="#1F5E6C" stroke-width="1.2"/>
<rect x="87.30" y="340.86" width="9.40" height="9.40" fill="#1F5E6C"/>
<rect x="93.20" y="332.35" width="9.40" height="9.40" fill="#1F5E6C"/>
<rect x="98.50" y="327.48" width="9.40" height="9.40" fill="#1F5E6C"/>
<rect x="105.70" y="320.09" width="9.40" height="9.40" fill="#1F5E6C"/>
<rect x="111.30" y="314.70" width="9.40" height="9.40" fill="#1F5E6C"/>
<rect x="116.30" y="310.39" width="9.40" height="9.40" fill="#1F5E6C"/>
<rect x="119.50" y="307.15" width="9.40" height="9.40" fill="#1F5E6C"/>
<rect x="122.10" y="304.39" width="9.40" height="9.40" fill="#1F5E6C"/>
<rect x="127.40" y="300.49" width="9.40" height="9.40" fill="#1F5E6C"/>
<rect x="131.70" y="296.71" width="9.40" height="9.40" fill="#1F5E6C"/>
<rect x="135.40" y="294.30" width="9.40" height="9.40" fill="#1F5E6C"/>
<rect x="146.40" y="286.28" width="9.40" height="9.40" fill="#1F5E6C"/>
<rect x="154.30" y="279.45" width="9.40" height="9.40" fill="#1F5E6C"/>
<rect x="166.30" y="274.33" width="9.40" height="9.40" fill="#1F5E6C"/>
<rect x="172.50" y="270.25" width="9.40" height="9.40" fill="#1F5E6C"/>
<rect x="178.40" y="265.06" width="9.40" height="9.40" fill="#1F5E6C"/>
<rect x="185.00" y="264.45" width="9.40" height="9.40" fill="#1F5E6C"/>
<rect x="191.60" y="260.67" width="9.40" height="9.40" fill="#1F5E6C"/>
<rect x="202.30" y="252.90" width="9.40" height="9.40" fill="#1F5E6C"/>
<rect x="206.30" y="253.61" width="9.40" height="9.40" fill="#1F5E6C"/>
<rect x="213.20" y="249.61" width="9.40" height="9.40" fill="#1F5E6C"/>
<path d="M92.00,345.02 L97.90,336.36 L103.20,331.44 L110.40,323.98 L116.00,318.55 L121.00,314.21 L124.20,310.94 L126.80,308.16 L132.10,304.32 L136.40,300.59 L140.10,298.25 L151.10,290.21 L159.00,283.27 L171.00,278.17 L177.20,274.06 L183.10,268.79 L189.70,268.24 L196.30,264.45 L207.00,256.56 L211.00,257.40 L217.90,253.37" fill="none" stroke="#15436A" stroke-width="1.2"/>
<rect x="87.30" y="340.32" width="9.40" height="9.40" fill="#15436A"/>
<rect x="93.20" y="331.66" width="9.40" height="9.40" fill="#15436A"/>
<rect x="98.50" y="326.74" width="9.40" height="9.40" fill="#15436A"/>
<rect x="105.70" y="319.28" width="9.40" height="9.40" fill="#15436A"/>
<rect x="111.30" y="313.85" width="9.40" height="9.40" fill="#15436A"/>
<rect x="116.30" y="309.51" width="9.40" height="9.40" fill="#15436A"/>
<rect x="119.50" y="306.24" width="9.40" height="9.40" fill="#15436A"/>
<rect x="122.10" y="303.46" width="9.40" height="9.40" fill="#15436A"/>
<rect x="127.40" y="299.62" width="9.40" height="9.40" fill="#15436A"/>
<rect x="131.70" y="295.89" width="9.40" height="9.40" fill="#15436A"/>
<rect x="135.40" y="293.55" width="9.40" height="9.40" fill="#15436A"/>
<rect x="146.40" y="285.51" width="9.40" height="9.40" fill="#15436A"/>
<rect x="154.30" y="278.57" width="9.40" height="9.40" fill="#15436A"/>
<rect x="166.30" y="273.47" width="9.40" height="9.40" fill="#15436A"/>
<rect x="172.50" y="269.36" width="9.40" height="9.40" fill="#15436A"/>
<rect x="178.40" y="264.09" width="9.40" height="9.40" fill="#15436A"/>
<rect x="185.00" y="263.54" width="9.40" height="9.40" fill="#15436A"/>
<rect x="191.60" y="259.75" width="9.40" height="9.40" fill="#15436A"/>
<rect x="202.30" y="251.86" width="9.40" height="9.40" fill="#15436A"/>
<rect x="206.30" y="252.70" width="9.40" height="9.40" fill="#15436A"/>
<rect x="213.20" y="248.67" width="9.40" height="9.40" fill="#15436A"/>
<path d="M294.13,374.72 L308.56,365.88 L322.99,358.82 L337.42,351.16 L351.85,343.90 L366.28,337.44 L380.71,331.39 L395.14,325.75 L409.57,320.50 L424.00,315.26 L438.43,310.42" fill="none" stroke="#FAB2B8" stroke-width="1.2"/>
<rect x="289.43" y="370.02" width="9.40" height="9.40" fill="#FAB2B8"/>
<rect x="303.86" y="361.18" width="9.40" height="9.40" fill="#FAB2B8"/>
<rect x="318.29" y="354.12" width="9.40" height="9.40" fill="#FAB2B8"/>
<rect x="332.72" y="346.46" width="9.40" height="9.40" fill="#FAB2B8"/>
<rect x="347.15" y="339.20" width="9.40" height="9.40" fill="#FAB2B8"/>
<rect x="361.58" y="332.74" width="9.40" height="9.40" fill="#FAB2B8"/>
<rect x="376.01" y="326.69" width="9.40" height="9.40" fill="#FAB2B8"/>
<rect x="390.44" y="321.05" width="9.40" height="9.40" fill="#FAB2B8"/>
<rect x="404.87" y="315.80" width="9.40" height="9.40" fill="#FAB2B8"/>
<rect x="419.30" y="310.56" width="9.40" height="9.40" fill="#FAB2B8"/>
<rect x="433.73" y="305.72" width="9.40" height="9.40" fill="#FAB2B8"/>
<path d="M294.13,352.77 L308.56,341.88 L322.99,332.60 L337.42,322.92 L351.85,314.45 L366.28,306.38 L380.71,298.72 L395.14,291.46 L409.57,285.41 L424.00,278.95 L438.43,272.50" fill="none" stroke="#F59E78" stroke-width="1.2"/>
<rect x="289.43" y="348.07" width="9.40" height="9.40" fill="#F59E78"/>
<rect x="303.86" y="337.18" width="9.40" height="9.40" fill="#F59E78"/>
<rect x="318.29" y="327.90" width="9.40" height="9.40" fill="#F59E78"/>
<rect x="332.72" y="318.22" width="9.40" height="9.40" fill="#F59E78"/>
<rect x="347.15" y="309.75" width="9.40" height="9.40" fill="#F59E78"/>
<rect x="361.58" y="301.68" width="9.40" height="9.40" fill="#F59E78"/>
<rect x="376.01" y="294.02" width="9.40" height="9.40" fill="#F59E78"/>
<rect x="390.44" y="286.76" width="9.40" height="9.40" fill="#F59E78"/>
<rect x="404.87" y="280.71" width="9.40" height="9.40" fill="#F59E78"/>
<rect x="419.30" y="274.25" width="9.40" height="9.40" fill="#F59E78"/>
<rect x="433.73" y="267.80" width="9.40" height="9.40" fill="#F59E78"/>
<path d="M294.13,344.30 L308.56,332.73 L322.99,322.95 L337.42,313.09 L351.85,303.78 L366.28,295.37 L380.71,286.86 L395.14,279.43 L409.57,272.70 L424.00,265.90 L438.43,259.45" fill="none" stroke="#D8913F" stroke-width="1.2"/>
<rect x="289.43" y="339.60" width="9.40" height="9.40" fill="#D8913F"/>
<rect x="303.86" y="328.03" width="9.40" height="9.40" fill="#D8913F"/>
<rect x="318.29" y="318.25" width="9.40" height="9.40" fill="#D8913F"/>
<rect x="332.72" y="308.39" width="9.40" height="9.40" fill="#D8913F"/>
<rect x="347.15" y="299.08" width="9.40" height="9.40" fill="#D8913F"/>
<rect x="361.58" y="290.67" width="9.40" height="9.40" fill="#D8913F"/>
<rect x="376.01" y="282.16" width="9.40" height="9.40" fill="#D8913F"/>
<rect x="390.44" y="274.73" width="9.40" height="9.40" fill="#D8913F"/>
<rect x="404.87" y="268.00" width="9.40" height="9.40" fill="#D8913F"/>
<rect x="419.30" y="261.20" width="9.40" height="9.40" fill="#D8913F"/>
<rect x="433.73" y="254.75" width="9.40" height="9.40" fill="#D8913F"/>
<path d="M294.13,341.68 L308.56,329.90 L322.99,319.96 L337.42,310.05 L351.85,300.47 L366.28,291.96 L380.71,283.19 L395.14,275.70 L409.57,268.76 L424.00,261.87 L438.43,255.41" fill="none" stroke="#9E8A2E" stroke-width="1.2"/>
<rect x="289.43" y="336.98" width="9.40" height="9.40" fill="#9E8A2E"/>
<rect x="303.86" y="325.20" width="9.40" height="9.40" fill="#9E8A2E"/>
<rect x="318.29" y="315.26" width="9.40" height="9.40" fill="#9E8A2E"/>
<rect x="332.72" y="305.35" width="9.40" height="9.40" fill="#9E8A2E"/>
<rect x="347.15" y="295.77" width="9.40" height="9.40" fill="#9E8A2E"/>
<rect x="361.58" y="287.26" width="9.40" height="9.40" fill="#9E8A2E"/>
<rect x="376.01" y="278.49" width="9.40" height="9.40" fill="#9E8A2E"/>
<rect x="390.44" y="271.00" width="9.40" height="9.40" fill="#9E8A2E"/>
<rect x="404.87" y="264.06" width="9.40" height="9.40" fill="#9E8A2E"/>
<rect x="419.30" y="257.17" width="9.40" height="9.40" fill="#9E8A2E"/>
<rect x="433.73" y="250.71" width="9.40" height="9.40" fill="#9E8A2E"/>
<path d="M294.13,339.06 L308.56,327.07 L322.99,316.97 L337.42,307.01 L351.85,297.17 L366.28,288.55 L380.71,279.52 L395.14,271.98 L409.57,264.83 L424.00,257.83 L438.43,251.37" fill="none" stroke="#6C7F45" stroke-width="1.2"/>
<rect x="289.43" y="334.36" width="9.40" height="9.40" fill="#6C7F45"/>
<rect x="303.86" y="322.37" width="9.40" height="9.40" fill="#6C7F45"/>
<rect x="318.29" y="312.27" width="9.40" height="9.40" fill="#6C7F45"/>
<rect x="332.72" y="302.31" width="9.40" height="9.40" fill="#6C7F45"/>
<rect x="347.15" y="292.47" width="9.40" height="9.40" fill="#6C7F45"/>
<rect x="361.58" y="283.85" width="9.40" height="9.40" fill="#6C7F45"/>
<rect x="376.01" y="274.82" width="9.40" height="9.40" fill="#6C7F45"/>
<rect x="390.44" y="267.28" width="9.40" height="9.40" fill="#6C7F45"/>
<rect x="404.87" y="260.13" width="9.40" height="9.40" fill="#6C7F45"/>
<rect x="419.30" y="253.13" width="9.40" height="9.40" fill="#6C7F45"/>
<rect x="433.73" y="246.67" width="9.40" height="9.40" fill="#6C7F45"/>
<path d="M294.13,337.04 L308.56,324.89 L322.99,314.67 L337.42,304.67 L351.85,294.63 L366.28,285.93 L380.71,276.69 L395.14,269.12 L409.57,261.81 L424.00,254.72 L438.43,248.27" fill="none" stroke="#3F6E5B" stroke-width="1.2"/>
<rect x="289.43" y="332.34" width="9.40" height="9.40" fill="#3F6E5B"/>
<rect x="303.86" y="320.19" width="9.40" height="9.40" fill="#3F6E5B"/>
<rect x="318.29" y="309.97" width="9.40" height="9.40" fill="#3F6E5B"/>
<rect x="332.72" y="299.97" width="9.40" height="9.40" fill="#3F6E5B"/>
<rect x="347.15" y="289.93" width="9.40" height="9.40" fill="#3F6E5B"/>
<rect x="361.58" y="281.23" width="9.40" height="9.40" fill="#3F6E5B"/>
<rect x="376.01" y="271.99" width="9.40" height="9.40" fill="#3F6E5B"/>
<rect x="390.44" y="264.42" width="9.40" height="9.40" fill="#3F6E5B"/>
<rect x="404.87" y="257.11" width="9.40" height="9.40" fill="#3F6E5B"/>
<rect x="419.30" y="250.02" width="9.40" height="9.40" fill="#3F6E5B"/>
<rect x="433.73" y="243.57" width="9.40" height="9.40" fill="#3F6E5B"/>
<path d="M294.13,335.43 L308.56,323.15 L322.99,312.83 L337.42,302.80 L351.85,292.59 L366.28,283.83 L380.71,274.43 L395.14,266.82 L409.57,259.39 L424.00,252.24 L438.43,245.78" fill="none" stroke="#1F5E6C" stroke-width="1.2"/>
<rect x="289.43" y="330.73" width="9.40" height="9.40" fill="#1F5E6C"/>
<rect x="303.86" y="318.45" width="9.40" height="9.40" fill="#1F5E6C"/>
<rect x="318.29" y="308.13" width="9.40" height="9.40" fill="#1F5E6C"/>
<rect x="332.72" y="298.10" width="9.40" height="9.40" fill="#1F5E6C"/>
<rect x="347.15" y="287.89" width="9.40" height="9.40" fill="#1F5E6C"/>
<rect x="361.58" y="279.13" width="9.40" height="9.40" fill="#1F5E6C"/>
<rect x="376.01" y="269.73" width="9.40" height="9.40" fill="#1F5E6C"/>
<rect x="390.44" y="262.12" width="9.40" height="9.40" fill="#1F5E6C"/>
<rect x="404.87" y="254.69" width="9.40" height="9.40" fill="#1F5E6C"/>
<rect x="419.30" y="247.54" width="9.40" height="9.40" fill="#1F5E6C"/>
<rect x="433.73" y="241.08" width="9.40" height="9.40" fill="#1F5E6C"/>
<path d="M294.13,334.01 L308.56,321.62 L322.99,311.22 L337.42,301.16 L351.85,290.81 L366.28,282.00 L380.71,272.46 L395.14,264.82 L409.57,257.27 L424.00,250.06 L438.43,243.61" fill="none" stroke="#15436A" stroke-width="1.2"/>
<rect x="289.43" y="329.31" width="9.40" height="9.40" fill="#15436A"/>
<rect x="303.86" y="316.92" width="9.40" height="9.40" fill="#15436A"/>
<rect x="318.29" y="306.52" width="9.40" height="9.40" fill="#15436A"/>
<rect x="332.72" y="296.46" width="9.40" height="9.40" fill="#15436A"/>
<rect x="347.15" y="286.11" width="9.40" height="9.40" fill="#15436A"/>
<rect x="361.58" y="277.30" width="9.40" height="9.40" fill="#15436A"/>
<rect x="376.01" y="267.76" width="9.40" height="9.40" fill="#15436A"/>
<rect x="390.44" y="260.12" width="9.40" height="9.40" fill="#15436A"/>
<rect x="404.87" y="252.57" width="9.40" height="9.40" fill="#15436A"/>
<rect x="419.30" y="245.36" width="9.40" height="9.40" fill="#15436A"/>
<rect x="433.73" y="238.91" width="9.40" height="9.40" fill="#15436A"/>
<path d="M294.13,332.60 L308.56,320.10 L322.99,309.61 L337.42,299.52 L351.85,289.04 L366.28,280.16 L380.71,270.48 L395.14,262.81 L409.57,255.15 L424.00,247.89 L438.43,241.43" fill="none" stroke="#1C2F6E" stroke-width="1.2"/>
<rect x="290.18" y="328.65" width="7.90" height="7.90" fill="#fff" stroke="#1C2F6E" stroke-width="1.35"/>
<rect x="304.61" y="316.15" width="7.90" height="7.90" fill="#fff" stroke="#1C2F6E" stroke-width="1.35"/>
<rect x="319.04" y="305.66" width="7.90" height="7.90" fill="#fff" stroke="#1C2F6E" stroke-width="1.35"/>
<rect x="333.47" y="295.57" width="7.90" height="7.90" fill="#fff" stroke="#1C2F6E" stroke-width="1.35"/>
<rect x="347.90" y="285.09" width="7.90" height="7.90" fill="#fff" stroke="#1C2F6E" stroke-width="1.35"/>
<rect x="362.33" y="276.21" width="7.90" height="7.90" fill="#fff" stroke="#1C2F6E" stroke-width="1.35"/>
<rect x="376.76" y="266.53" width="7.90" height="7.90" fill="#fff" stroke="#1C2F6E" stroke-width="1.35"/>
<rect x="391.19" y="258.86" width="7.90" height="7.90" fill="#fff" stroke="#1C2F6E" stroke-width="1.35"/>
<rect x="405.62" y="251.20" width="7.90" height="7.90" fill="#fff" stroke="#1C2F6E" stroke-width="1.35"/>
<rect x="420.05" y="243.94" width="7.90" height="7.90" fill="#fff" stroke="#1C2F6E" stroke-width="1.35"/>
<rect x="434.48" y="237.48" width="7.90" height="7.90" fill="#fff" stroke="#1C2F6E" stroke-width="1.35"/>
<path d="M496.33,368.91 L503.54,363.66 L520.57,349.55 L530.96,344.70 L540.34,340.27 L555.93,332.60 L564.44,328.57 L575.69,322.92 L587.67,318.89 L601.24,315.26 L612.35,310.01 L635.29,301.14" fill="none" stroke="#FAB2B8" stroke-width="1.2"/>
<rect x="491.63" y="364.21" width="9.40" height="9.40" fill="#FAB2B8"/>
<rect x="498.84" y="358.96" width="9.40" height="9.40" fill="#FAB2B8"/>
<rect x="515.87" y="344.85" width="9.40" height="9.40" fill="#FAB2B8"/>
<rect x="526.26" y="340.00" width="9.40" height="9.40" fill="#FAB2B8"/>
<rect x="535.64" y="335.57" width="9.40" height="9.40" fill="#FAB2B8"/>
<rect x="551.23" y="327.90" width="9.40" height="9.40" fill="#FAB2B8"/>
<rect x="559.74" y="323.87" width="9.40" height="9.40" fill="#FAB2B8"/>
<rect x="570.99" y="318.22" width="9.40" height="9.40" fill="#FAB2B8"/>
<rect x="582.97" y="314.19" width="9.40" height="9.40" fill="#FAB2B8"/>
<rect x="596.54" y="310.56" width="9.40" height="9.40" fill="#FAB2B8"/>
<rect x="607.65" y="305.31" width="9.40" height="9.40" fill="#FAB2B8"/>
<rect x="630.59" y="296.44" width="9.40" height="9.40" fill="#FAB2B8"/>
<path d="M496.33,345.11 L503.54,337.85 L520.57,322.52 L530.96,314.45 L540.34,310.42 L555.93,301.14 L564.44,296.70 L575.69,287.83 L587.67,284.60 L601.24,279.35 L612.35,272.50 L635.29,261.60" fill="none" stroke="#F59E78" stroke-width="1.2"/>
<rect x="491.63" y="340.41" width="9.40" height="9.40" fill="#F59E78"/>
<rect x="498.84" y="333.15" width="9.40" height="9.40" fill="#F59E78"/>
<rect x="515.87" y="317.82" width="9.40" height="9.40" fill="#F59E78"/>
<rect x="526.26" y="309.75" width="9.40" height="9.40" fill="#F59E78"/>
<rect x="535.64" y="305.72" width="9.40" height="9.40" fill="#F59E78"/>
<rect x="551.23" y="296.44" width="9.40" height="9.40" fill="#F59E78"/>
<rect x="559.74" y="292.00" width="9.40" height="9.40" fill="#F59E78"/>
<rect x="570.99" y="283.13" width="9.40" height="9.40" fill="#F59E78"/>
<rect x="582.97" y="279.90" width="9.40" height="9.40" fill="#F59E78"/>
<rect x="596.54" y="274.65" width="9.40" height="9.40" fill="#F59E78"/>
<rect x="607.65" y="267.80" width="9.40" height="9.40" fill="#F59E78"/>
<rect x="630.59" y="256.90" width="9.40" height="9.40" fill="#F59E78"/>
<path d="M496.33,336.47 L503.54,324.46 L520.57,312.01 L530.96,304.28 L540.34,299.57 L555.93,289.70 L564.44,284.84 L575.69,276.30 L587.67,272.06 L601.24,266.82 L612.35,259.62 L635.29,247.37" fill="none" stroke="#D8913F" stroke-width="1.2"/>
<rect x="491.63" y="331.77" width="9.40" height="9.40" fill="#D8913F"/>
<rect x="498.84" y="319.76" width="9.40" height="9.40" fill="#D8913F"/>
<rect x="515.87" y="307.31" width="9.40" height="9.40" fill="#D8913F"/>
<rect x="526.26" y="299.58" width="9.40" height="9.40" fill="#D8913F"/>
<rect x="535.64" y="294.87" width="9.40" height="9.40" fill="#D8913F"/>
<rect x="551.23" y="285.00" width="9.40" height="9.40" fill="#D8913F"/>
<rect x="559.74" y="280.14" width="9.40" height="9.40" fill="#D8913F"/>
<rect x="570.99" y="271.60" width="9.40" height="9.40" fill="#D8913F"/>
<rect x="582.97" y="267.36" width="9.40" height="9.40" fill="#D8913F"/>
<rect x="596.54" y="262.12" width="9.40" height="9.40" fill="#D8913F"/>
<rect x="607.65" y="254.92" width="9.40" height="9.40" fill="#D8913F"/>
<rect x="630.59" y="242.67" width="9.40" height="9.40" fill="#D8913F"/>
<path d="M496.33,333.79 L503.54,320.32 L520.57,308.76 L530.96,301.14 L540.34,296.22 L555.93,286.16 L564.44,281.17 L575.69,272.74 L587.67,268.18 L601.24,262.94 L612.35,255.63 L635.29,242.97" fill="none" stroke="#9E8A2E" stroke-width="1.2"/>
<rect x="491.63" y="329.09" width="9.40" height="9.40" fill="#9E8A2E"/>
<rect x="498.84" y="315.62" width="9.40" height="9.40" fill="#9E8A2E"/>
<rect x="515.87" y="304.06" width="9.40" height="9.40" fill="#9E8A2E"/>
<rect x="526.26" y="296.44" width="9.40" height="9.40" fill="#9E8A2E"/>
<rect x="535.64" y="291.52" width="9.40" height="9.40" fill="#9E8A2E"/>
<rect x="551.23" y="281.46" width="9.40" height="9.40" fill="#9E8A2E"/>
<rect x="559.74" y="276.47" width="9.40" height="9.40" fill="#9E8A2E"/>
<rect x="570.99" y="268.04" width="9.40" height="9.40" fill="#9E8A2E"/>
<rect x="582.97" y="263.48" width="9.40" height="9.40" fill="#9E8A2E"/>
<rect x="596.54" y="258.24" width="9.40" height="9.40" fill="#9E8A2E"/>
<rect x="607.65" y="250.93" width="9.40" height="9.40" fill="#9E8A2E"/>
<rect x="630.59" y="238.27" width="9.40" height="9.40" fill="#9E8A2E"/>
<path d="M496.33,331.12 L503.54,316.18 L520.57,305.51 L530.96,297.99 L540.34,292.86 L555.93,282.62 L564.44,277.50 L575.69,269.17 L587.67,264.30 L601.24,259.06 L612.35,251.65 L635.29,238.56" fill="none" stroke="#6C7F45" stroke-width="1.2"/>
<rect x="491.63" y="326.42" width="9.40" height="9.40" fill="#6C7F45"/>
<rect x="498.84" y="311.48" width="9.40" height="9.40" fill="#6C7F45"/>
<rect x="515.87" y="300.81" width="9.40" height="9.40" fill="#6C7F45"/>
<rect x="526.26" y="293.29" width="9.40" height="9.40" fill="#6C7F45"/>
<rect x="535.64" y="288.16" width="9.40" height="9.40" fill="#6C7F45"/>
<rect x="551.23" y="277.92" width="9.40" height="9.40" fill="#6C7F45"/>
<rect x="559.74" y="272.80" width="9.40" height="9.40" fill="#6C7F45"/>
<rect x="570.99" y="264.47" width="9.40" height="9.40" fill="#6C7F45"/>
<rect x="582.97" y="259.60" width="9.40" height="9.40" fill="#6C7F45"/>
<rect x="596.54" y="254.36" width="9.40" height="9.40" fill="#6C7F45"/>
<rect x="607.65" y="246.95" width="9.40" height="9.40" fill="#6C7F45"/>
<rect x="630.59" y="233.86" width="9.40" height="9.40" fill="#6C7F45"/>
<path d="M496.33,329.06 L503.54,312.99 L520.57,303.01 L530.96,295.57 L540.34,290.28 L555.93,279.90 L564.44,274.67 L575.69,266.43 L587.67,261.31 L601.24,256.07 L612.35,248.58 L635.29,235.17" fill="none" stroke="#3F6E5B" stroke-width="1.2"/>
<rect x="491.63" y="324.36" width="9.40" height="9.40" fill="#3F6E5B"/>
<rect x="498.84" y="308.29" width="9.40" height="9.40" fill="#3F6E5B"/>
<rect x="515.87" y="298.31" width="9.40" height="9.40" fill="#3F6E5B"/>
<rect x="526.26" y="290.87" width="9.40" height="9.40" fill="#3F6E5B"/>
<rect x="535.64" y="285.58" width="9.40" height="9.40" fill="#3F6E5B"/>
<rect x="551.23" y="275.20" width="9.40" height="9.40" fill="#3F6E5B"/>
<rect x="559.74" y="269.97" width="9.40" height="9.40" fill="#3F6E5B"/>
<rect x="570.99" y="261.73" width="9.40" height="9.40" fill="#3F6E5B"/>
<rect x="582.97" y="256.61" width="9.40" height="9.40" fill="#3F6E5B"/>
<rect x="596.54" y="251.37" width="9.40" height="9.40" fill="#3F6E5B"/>
<rect x="607.65" y="243.88" width="9.40" height="9.40" fill="#3F6E5B"/>
<rect x="630.59" y="230.47" width="9.40" height="9.40" fill="#3F6E5B"/>
<path d="M496.33,327.42 L503.54,310.44 L520.57,301.01 L530.96,293.63 L540.34,288.21 L555.93,277.72 L564.44,272.42 L575.69,264.23 L587.67,258.93 L601.24,253.68 L612.35,246.13 L635.29,232.46" fill="none" stroke="#1F5E6C" stroke-width="1.2"/>
<rect x="491.63" y="322.72" width="9.40" height="9.40" fill="#1F5E6C"/>
<rect x="498.84" y="305.74" width="9.40" height="9.40" fill="#1F5E6C"/>
<rect x="515.87" y="296.31" width="9.40" height="9.40" fill="#1F5E6C"/>
<rect x="526.26" y="288.93" width="9.40" height="9.40" fill="#1F5E6C"/>
<rect x="535.64" y="283.51" width="9.40" height="9.40" fill="#1F5E6C"/>
<rect x="551.23" y="273.02" width="9.40" height="9.40" fill="#1F5E6C"/>
<rect x="559.74" y="267.72" width="9.40" height="9.40" fill="#1F5E6C"/>
<rect x="570.99" y="259.53" width="9.40" height="9.40" fill="#1F5E6C"/>
<rect x="582.97" y="254.23" width="9.40" height="9.40" fill="#1F5E6C"/>
<rect x="596.54" y="248.98" width="9.40" height="9.40" fill="#1F5E6C"/>
<rect x="607.65" y="241.43" width="9.40" height="9.40" fill="#1F5E6C"/>
<rect x="630.59" y="227.76" width="9.40" height="9.40" fill="#1F5E6C"/>
<path d="M496.33,325.98 L503.54,308.21 L520.57,299.26 L530.96,291.94 L540.34,286.41 L555.93,275.81 L564.44,270.44 L575.69,262.31 L587.67,256.84 L601.24,251.59 L612.35,243.98 L635.29,230.09" fill="none" stroke="#15436A" stroke-width="1.2"/>
<rect x="491.63" y="321.28" width="9.40" height="9.40" fill="#15436A"/>
<rect x="498.84" y="303.51" width="9.40" height="9.40" fill="#15436A"/>
<rect x="515.87" y="294.56" width="9.40" height="9.40" fill="#15436A"/>
<rect x="526.26" y="287.24" width="9.40" height="9.40" fill="#15436A"/>
<rect x="535.64" y="281.71" width="9.40" height="9.40" fill="#15436A"/>
<rect x="551.23" y="271.11" width="9.40" height="9.40" fill="#15436A"/>
<rect x="559.74" y="265.74" width="9.40" height="9.40" fill="#15436A"/>
<rect x="570.99" y="257.61" width="9.40" height="9.40" fill="#15436A"/>
<rect x="582.97" y="252.14" width="9.40" height="9.40" fill="#15436A"/>
<rect x="596.54" y="246.89" width="9.40" height="9.40" fill="#15436A"/>
<rect x="607.65" y="239.28" width="9.40" height="9.40" fill="#15436A"/>
<rect x="630.59" y="225.39" width="9.40" height="9.40" fill="#15436A"/>
<path d="M496.33,324.54 L503.54,305.98 L520.57,297.51 L530.96,290.25 L540.34,284.60 L555.93,273.91 L564.44,268.46 L575.69,260.39 L587.67,254.75 L601.24,249.50 L612.35,241.84 L635.29,227.72" fill="none" stroke="#1C2F6E" stroke-width="1.2"/>
<rect x="492.38" y="320.59" width="7.90" height="7.90" fill="#fff" stroke="#1C2F6E" stroke-width="1.35"/>
<rect x="499.59" y="302.03" width="7.90" height="7.90" fill="#fff" stroke="#1C2F6E" stroke-width="1.35"/>
<rect x="516.62" y="293.56" width="7.90" height="7.90" fill="#fff" stroke="#1C2F6E" stroke-width="1.35"/>
<rect x="527.01" y="286.30" width="7.90" height="7.90" fill="#fff" stroke="#1C2F6E" stroke-width="1.35"/>
<rect x="536.39" y="280.65" width="7.90" height="7.90" fill="#fff" stroke="#1C2F6E" stroke-width="1.35"/>
<rect x="551.98" y="269.96" width="7.90" height="7.90" fill="#fff" stroke="#1C2F6E" stroke-width="1.35"/>
<rect x="560.49" y="264.51" width="7.90" height="7.90" fill="#fff" stroke="#1C2F6E" stroke-width="1.35"/>
<rect x="571.74" y="256.44" width="7.90" height="7.90" fill="#fff" stroke="#1C2F6E" stroke-width="1.35"/>
<rect x="583.72" y="250.80" width="7.90" height="7.90" fill="#fff" stroke="#1C2F6E" stroke-width="1.35"/>
<rect x="597.29" y="245.55" width="7.90" height="7.90" fill="#fff" stroke="#1C2F6E" stroke-width="1.35"/>
<rect x="608.40" y="237.89" width="7.90" height="7.90" fill="#fff" stroke="#1C2F6E" stroke-width="1.35"/>
<rect x="631.34" y="223.77" width="7.90" height="7.90" fill="#fff" stroke="#1C2F6E" stroke-width="1.35"/>
<line x1="215.8" y1="47.4" x2="215.8" y2="192.80" stroke="#000" stroke-width="2.1" stroke-dasharray="7 5.5"/>
<path d="M215.8,198.8 L210.40,188.00 L215.8,191.40 L221.20,188.00 Z" fill="#000"/>
<line x1="460.55" y1="47.2" x2="460.55" y2="193.20" stroke="#000" stroke-width="2.1" stroke-dasharray="7 5.5"/>
<path d="M460.55,199.2 L455.15,188.40 L460.55,191.80 L465.95,188.40 Z" fill="#000"/>
<line x1="657.4" y1="42.0" x2="657.4" y2="187.90" stroke="#000" stroke-width="2.1" stroke-dasharray="7 5.5"/>
<path d="M657.4,193.9 L652.00,183.10 L657.4,186.50 L662.80,183.10 Z" fill="#000"/>
<line x1="215.55" y1="347.4" x2="215.55" y2="237.10" stroke="#000" stroke-width="2.1" stroke-dasharray="7 5.5"/>
<path d="M215.55,231.1 L210.15,241.90 L215.55,238.50 L220.95,241.90 Z" fill="#000"/>
<line x1="460.55" y1="333.1" x2="460.55" y2="228.00" stroke="#000" stroke-width="2.1" stroke-dasharray="7 5.5"/>
<path d="M460.55,222.0 L455.15,232.80 L460.55,229.40 L465.95,232.80 Z" fill="#000"/>
<line x1="657.4" y1="328.0" x2="657.4" y2="223.00" stroke="#000" stroke-width="2.1" stroke-dasharray="7 5.5"/>
<path d="M657.4,217.0 L652.00,227.80 L657.4,224.40 L662.80,227.80 Z" fill="#000"/>
<path d="M91.80,344.50 L94.10,342.00 L97.60,335.70 L102.50,331.20 L109.30,324.00 L115.20,318.10 L123.00,311.30 L126.00,307.40 L130.80,304.50 L134.70,300.50 L139.60,297.60 L150.40,289.80 L159.10,282.00 L161.20,282.00 L170.50,277.30 L175.80,274.40 L182.20,267.40 L188.00,268.00 L196.20,263.30 L206.70,255.10 L210.80,256.30 L217.80,252.20 L230.10,242.80" fill="none" stroke="#1C2F6E" stroke-width="1.2"/>
<rect x="87.85" y="340.55" width="7.90" height="7.90" fill="#fff" stroke="#1C2F6E" stroke-width="1.35"/>
<rect x="90.15" y="338.05" width="7.90" height="7.90" fill="#fff" stroke="#1C2F6E" stroke-width="1.35"/>
<rect x="93.65" y="331.75" width="7.90" height="7.90" fill="#fff" stroke="#1C2F6E" stroke-width="1.35"/>
<rect x="98.55" y="327.25" width="7.90" height="7.90" fill="#fff" stroke="#1C2F6E" stroke-width="1.35"/>
<rect x="105.35" y="320.05" width="7.90" height="7.90" fill="#fff" stroke="#1C2F6E" stroke-width="1.35"/>
<rect x="111.25" y="314.15" width="7.90" height="7.90" fill="#fff" stroke="#1C2F6E" stroke-width="1.35"/>
<rect x="119.05" y="307.35" width="7.90" height="7.90" fill="#fff" stroke="#1C2F6E" stroke-width="1.35"/>
<rect x="122.05" y="303.45" width="7.90" height="7.90" fill="#fff" stroke="#1C2F6E" stroke-width="1.35"/>
<rect x="126.85" y="300.55" width="7.90" height="7.90" fill="#fff" stroke="#1C2F6E" stroke-width="1.35"/>
<rect x="130.75" y="296.55" width="7.90" height="7.90" fill="#fff" stroke="#1C2F6E" stroke-width="1.35"/>
<rect x="135.65" y="293.65" width="7.90" height="7.90" fill="#fff" stroke="#1C2F6E" stroke-width="1.35"/>
<rect x="146.45" y="285.85" width="7.90" height="7.90" fill="#fff" stroke="#1C2F6E" stroke-width="1.35"/>
<rect x="155.15" y="278.05" width="7.90" height="7.90" fill="#fff" stroke="#1C2F6E" stroke-width="1.35"/>
<rect x="157.25" y="278.05" width="7.90" height="7.90" fill="#fff" stroke="#1C2F6E" stroke-width="1.35"/>
<rect x="166.55" y="273.35" width="7.90" height="7.90" fill="#fff" stroke="#1C2F6E" stroke-width="1.35"/>
<rect x="171.85" y="270.45" width="7.90" height="7.90" fill="#fff" stroke="#1C2F6E" stroke-width="1.35"/>
<rect x="178.25" y="263.45" width="7.90" height="7.90" fill="#fff" stroke="#1C2F6E" stroke-width="1.35"/>
<rect x="184.05" y="264.05" width="7.90" height="7.90" fill="#fff" stroke="#1C2F6E" stroke-width="1.35"/>
<rect x="192.25" y="259.35" width="7.90" height="7.90" fill="#fff" stroke="#1C2F6E" stroke-width="1.35"/>
<rect x="202.75" y="251.15" width="7.90" height="7.90" fill="#fff" stroke="#1C2F6E" stroke-width="1.35"/>
<rect x="206.85" y="252.35" width="7.90" height="7.90" fill="#fff" stroke="#1C2F6E" stroke-width="1.35"/>
<rect x="213.85" y="248.25" width="7.90" height="7.90" fill="#fff" stroke="#1C2F6E" stroke-width="1.35"/>
<rect x="226.15" y="238.85" width="7.90" height="7.90" fill="#fff" stroke="#1C2F6E" stroke-width="1.35"/>
<line x1="77.8" y1="173.20" x2="86.8" y2="173.20" stroke="#000" stroke-width="2"/>
<line x1="77.8" y1="132.80" x2="81.8" y2="132.80" stroke="#000" stroke-width="2"/>
<line x1="77.8" y1="92.40" x2="86.8" y2="92.40" stroke="#000" stroke-width="2"/>
<line x1="77.8" y1="52.00" x2="81.8" y2="52.00" stroke="#000" stroke-width="2"/>
<line x1="77.8" y1="11.60" x2="86.8" y2="11.60" stroke="#000" stroke-width="2"/>
<line x1="92.23" y1="213.6" x2="92.23" y2="204.6" stroke="#000" stroke-width="2"/>
<line x1="121.09" y1="213.6" x2="121.09" y2="209.6" stroke="#000" stroke-width="2"/>
<line x1="149.95" y1="213.6" x2="149.95" y2="204.6" stroke="#000" stroke-width="2"/>
<line x1="178.81" y1="213.6" x2="178.81" y2="209.6" stroke="#000" stroke-width="2"/>
<line x1="207.67" y1="213.6" x2="207.67" y2="204.6" stroke="#000" stroke-width="2"/>
<line x1="236.53" y1="213.6" x2="236.53" y2="209.6" stroke="#000" stroke-width="2"/>
<line x1="265.39" y1="213.6" x2="265.39" y2="204.6" stroke="#000" stroke-width="2"/>
<line x1="77.8" y1="395.13" x2="86.8" y2="395.13" stroke="#000" stroke-width="2"/>
<line x1="77.8" y1="354.79" x2="81.8" y2="354.79" stroke="#000" stroke-width="2"/>
<line x1="77.8" y1="314.45" x2="86.8" y2="314.45" stroke="#000" stroke-width="2"/>
<line x1="77.8" y1="274.11" x2="81.8" y2="274.11" stroke="#000" stroke-width="2"/>
<line x1="77.8" y1="233.77" x2="86.8" y2="233.77" stroke="#000" stroke-width="2"/>
<line x1="92.23" y1="415.3" x2="92.23" y2="406.3" stroke="#000" stroke-width="2"/>
<line x1="121.09" y1="415.3" x2="121.09" y2="411.3" stroke="#000" stroke-width="2"/>
<line x1="149.95" y1="415.3" x2="149.95" y2="406.3" stroke="#000" stroke-width="2"/>
<line x1="178.81" y1="415.3" x2="178.81" y2="411.3" stroke="#000" stroke-width="2"/>
<line x1="207.67" y1="415.3" x2="207.67" y2="406.3" stroke="#000" stroke-width="2"/>
<line x1="236.53" y1="415.3" x2="236.53" y2="411.3" stroke="#000" stroke-width="2"/>
<line x1="265.39" y1="415.3" x2="265.39" y2="406.3" stroke="#000" stroke-width="2"/>
<line x1="279.7" y1="173.20" x2="288.7" y2="173.20" stroke="#000" stroke-width="2"/>
<line x1="279.7" y1="132.80" x2="283.7" y2="132.80" stroke="#000" stroke-width="2"/>
<line x1="279.7" y1="92.40" x2="288.7" y2="92.40" stroke="#000" stroke-width="2"/>
<line x1="279.7" y1="52.00" x2="283.7" y2="52.00" stroke="#000" stroke-width="2"/>
<line x1="279.7" y1="11.60" x2="288.7" y2="11.60" stroke="#000" stroke-width="2"/>
<line x1="294.13" y1="213.6" x2="294.13" y2="204.6" stroke="#000" stroke-width="2"/>
<line x1="322.99" y1="213.6" x2="322.99" y2="209.6" stroke="#000" stroke-width="2"/>
<line x1="351.85" y1="213.6" x2="351.85" y2="204.6" stroke="#000" stroke-width="2"/>
<line x1="380.71" y1="213.6" x2="380.71" y2="209.6" stroke="#000" stroke-width="2"/>
<line x1="409.57" y1="213.6" x2="409.57" y2="204.6" stroke="#000" stroke-width="2"/>
<line x1="438.43" y1="213.6" x2="438.43" y2="209.6" stroke="#000" stroke-width="2"/>
<line x1="467.29" y1="213.6" x2="467.29" y2="204.6" stroke="#000" stroke-width="2"/>
<line x1="279.7" y1="395.13" x2="288.7" y2="395.13" stroke="#000" stroke-width="2"/>
<line x1="279.7" y1="354.79" x2="283.7" y2="354.79" stroke="#000" stroke-width="2"/>
<line x1="279.7" y1="314.45" x2="288.7" y2="314.45" stroke="#000" stroke-width="2"/>
<line x1="279.7" y1="274.11" x2="283.7" y2="274.11" stroke="#000" stroke-width="2"/>
<line x1="279.7" y1="233.77" x2="288.7" y2="233.77" stroke="#000" stroke-width="2"/>
<line x1="294.13" y1="415.3" x2="294.13" y2="406.3" stroke="#000" stroke-width="2"/>
<line x1="322.99" y1="415.3" x2="322.99" y2="411.3" stroke="#000" stroke-width="2"/>
<line x1="351.85" y1="415.3" x2="351.85" y2="406.3" stroke="#000" stroke-width="2"/>
<line x1="380.71" y1="415.3" x2="380.71" y2="411.3" stroke="#000" stroke-width="2"/>
<line x1="409.57" y1="415.3" x2="409.57" y2="406.3" stroke="#000" stroke-width="2"/>
<line x1="438.43" y1="415.3" x2="438.43" y2="411.3" stroke="#000" stroke-width="2"/>
<line x1="467.29" y1="415.3" x2="467.29" y2="406.3" stroke="#000" stroke-width="2"/>
<line x1="481.9" y1="173.20" x2="490.9" y2="173.20" stroke="#000" stroke-width="2"/>
<line x1="481.9" y1="132.80" x2="485.9" y2="132.80" stroke="#000" stroke-width="2"/>
<line x1="481.9" y1="92.40" x2="490.9" y2="92.40" stroke="#000" stroke-width="2"/>
<line x1="481.9" y1="52.00" x2="485.9" y2="52.00" stroke="#000" stroke-width="2"/>
<line x1="481.9" y1="11.60" x2="490.9" y2="11.60" stroke="#000" stroke-width="2"/>
<line x1="496.33" y1="213.6" x2="496.33" y2="204.6" stroke="#000" stroke-width="2"/>
<line x1="525.19" y1="213.6" x2="525.19" y2="209.6" stroke="#000" stroke-width="2"/>
<line x1="554.05" y1="213.6" x2="554.05" y2="204.6" stroke="#000" stroke-width="2"/>
<line x1="582.91" y1="213.6" x2="582.91" y2="209.6" stroke="#000" stroke-width="2"/>
<line x1="611.77" y1="213.6" x2="611.77" y2="204.6" stroke="#000" stroke-width="2"/>
<line x1="640.63" y1="213.6" x2="640.63" y2="209.6" stroke="#000" stroke-width="2"/>
<line x1="669.49" y1="213.6" x2="669.49" y2="204.6" stroke="#000" stroke-width="2"/>
<line x1="481.9" y1="395.13" x2="490.9" y2="395.13" stroke="#000" stroke-width="2"/>
<line x1="481.9" y1="354.79" x2="485.9" y2="354.79" stroke="#000" stroke-width="2"/>
<line x1="481.9" y1="314.45" x2="490.9" y2="314.45" stroke="#000" stroke-width="2"/>
<line x1="481.9" y1="274.11" x2="485.9" y2="274.11" stroke="#000" stroke-width="2"/>
<line x1="481.9" y1="233.77" x2="490.9" y2="233.77" stroke="#000" stroke-width="2"/>
<line x1="496.33" y1="415.3" x2="496.33" y2="406.3" stroke="#000" stroke-width="2"/>
<line x1="525.19" y1="415.3" x2="525.19" y2="411.3" stroke="#000" stroke-width="2"/>
<line x1="554.05" y1="415.3" x2="554.05" y2="406.3" stroke="#000" stroke-width="2"/>
<line x1="582.91" y1="415.3" x2="582.91" y2="411.3" stroke="#000" stroke-width="2"/>
<line x1="611.77" y1="415.3" x2="611.77" y2="406.3" stroke="#000" stroke-width="2"/>
<line x1="640.63" y1="415.3" x2="640.63" y2="411.3" stroke="#000" stroke-width="2"/>
<line x1="669.49" y1="415.3" x2="669.49" y2="406.3" stroke="#000" stroke-width="2"/>
<path d="M77.8,11.6 H684.0 V415.3 H77.8 Z M77.8,213.6 H684.0 M279.7,11.6 V415.3 M481.9,11.6 V415.3" fill="none" stroke="#000" stroke-width="2.2"/>
<text x="69.5" y="18.599999999999994" font-size="19.5" fill="#000" text-anchor="end" >100</text>
<text x="69.5" y="99.39999999999999" font-size="19.5" fill="#000" text-anchor="end" >60</text>
<text x="69.5" y="180.2" font-size="19.5" fill="#000" text-anchor="end" >20</text>
<text x="69.5" y="240.77" font-size="19.5" fill="#000" text-anchor="end" >60</text>
<text x="69.5" y="321.45000000000005" font-size="19.5" fill="#000" text-anchor="end" >40</text>
<text x="69.5" y="402.13" font-size="19.5" fill="#000" text-anchor="end" >20</text>
<text x="92.23" y="439.7" font-size="19.5" fill="#000" text-anchor="middle" >0</text>
<text x="149.95" y="439.7" font-size="19.5" fill="#000" text-anchor="middle" >4</text>
<text x="207.67" y="439.7" font-size="19.5" fill="#000" text-anchor="middle" >8</text>
<text x="265.39" y="439.7" font-size="19.5" fill="#000" text-anchor="middle" >12</text>
<text x="294.13" y="439.7" font-size="19.5" fill="#000" text-anchor="middle" >0</text>
<text x="351.85" y="439.7" font-size="19.5" fill="#000" text-anchor="middle" >4</text>
<text x="409.57" y="439.7" font-size="19.5" fill="#000" text-anchor="middle" >8</text>
<text x="467.29" y="439.7" font-size="19.5" fill="#000" text-anchor="middle" >12</text>
<text x="496.33" y="439.7" font-size="19.5" fill="#000" text-anchor="middle" >0</text>
<text x="554.05" y="439.7" font-size="19.5" fill="#000" text-anchor="middle" >4</text>
<text x="611.77" y="439.7" font-size="19.5" fill="#000" text-anchor="middle" >8</text>
<text x="669.49" y="439.7" font-size="19.5" fill="#000" text-anchor="middle" >12</text>
<text transform="translate(35.2,278.7) rotate(-90)" font-size="21.6">Raman shift (cm<tspan font-size="12.5" dy="-8.5" dx="0.5">-1</tspan><tspan dy="8.5" dx="1">)</tspan></text>
<text x="341.5" y="473.7" font-size="22"><tspan font-style="italic">P</tspan> (GPa)</text>
<text x="92.2" y="37.3" font-size="19.5">LB<tspan font-size="13" dy="5"><tspan font-style="italic">N</tspan>,<tspan font-style="italic">N</tspan>-1</tspan></text>
<text x="92.2" y="61.0" font-size="19.5" fill="#000" text-anchor="start" >Exp.</text>
<text x="92.2" y="238.0" font-size="19.5">S<tspan font-size="13" dy="5"><tspan font-style="italic">N</tspan>,1</tspan></text>
<text x="92.2" y="260.9" font-size="19.5" fill="#000" text-anchor="start" >Exp.</text>
<text x="295.1" y="37.3" font-size="19.5">LB<tspan font-size="13" dy="5"><tspan font-style="italic">N</tspan>,<tspan font-style="italic">N</tspan>-1</tspan></text>
<text x="295.1" y="61.0" font-size="19.5" fill="#000" text-anchor="start" >DFT</text>
<text x="295.1" y="238.0" font-size="19.5">S<tspan font-size="13" dy="5"><tspan font-style="italic">N</tspan>,1</tspan></text>
<text x="295.1" y="260.9" font-size="19.5" fill="#000" text-anchor="start" >DFT</text>
<text x="497.2" y="37.3" font-size="19.5">LB<tspan font-size="13" dy="5"><tspan font-style="italic">N</tspan>,<tspan font-style="italic">N</tspan>-1</tspan></text>
<text x="497.2" y="61.0" font-size="19.5" fill="#000" text-anchor="start" >MD</text>
<text x="497.2" y="238.0" font-size="19.5">S<tspan font-size="13" dy="5"><tspan font-style="italic">N</tspan>,1</tspan></text>
<text x="497.2" y="260.9" font-size="19.5" fill="#000" text-anchor="start" >MD</text>
<text x="268.6" y="34.6" font-size="19.5" text-anchor="end"><tspan font-style="italic">N</tspan>: 2, 4 to 9</text>
<text x="466.8" y="34.6" font-size="19.5" text-anchor="end"><tspan font-style="italic">N</tspan>: 2 to 9</text>
<text x="668.4" y="34.6" font-size="19.5" text-anchor="end"><tspan font-style="italic">N</tspan>: 2 to 9</text>
<text x="263.9" y="390.4" font-size="19.5" text-anchor="end"><tspan font-style="italic">N</tspan>: 2 to 9, bulk</text>
<text x="466.1" y="390.4" font-size="19.5" text-anchor="end"><tspan font-style="italic">N</tspan>: 2 to 9, bulk</text>
<text x="668.2" y="390.4" font-size="19.5" text-anchor="end"><tspan font-style="italic">N</tspan>: 2 to 9, bulk</text>
<text x="-0.5" y="14" font-size="24" font-weight="bold">a</text>
<text x="-0.5" y="503.4" font-size="24" font-weight="bold">b</text>
<path d="M124,621.2 C131.27,622.78 153.03,627.53 167.60,630.70 C182.17,633.87 196.80,637.45 211.40,640.20 C226.00,642.95 243.77,645.50 255.20,647.20 C266.63,648.90 267.80,649.27 280.00,650.40 C292.20,651.53 310.60,653.15 328.40,654.00 C346.20,654.85 363.20,655.12 386.80,655.50 C410.40,655.88 428.22,656.38 470.00,656.30 C511.78,656.22 609.58,655.22 637.50,655.00" fill="none" stroke="#D8D8FF" stroke-width="54.5" stroke-linecap="round"/>
<path d="M126.7,546.4 C133.52,548.17 153.48,552.93 167.60,557.00 C181.72,561.07 196.80,566.47 211.40,570.80 C226.00,575.13 243.77,580.22 255.20,583.00 C266.63,585.78 267.80,585.58 280.00,587.50 C292.20,589.42 310.60,592.75 328.40,594.50 C346.20,596.25 362.53,596.98 386.80,598.00 C411.07,599.02 459.47,600.17 474.00,600.60" fill="none" stroke="#FFD8D9" stroke-width="64" stroke-linecap="round"/>
<circle cx="225.60" cy="550.4" r="4.6" fill="none" stroke="#FF0000" stroke-width="1.2"/>
<circle cx="225.60" cy="553.3" r="4.6" fill="none" stroke="#FF0000" stroke-width="1.2"/>
<circle cx="225.60" cy="556.1" r="4.6" fill="none" stroke="#FF0000" stroke-width="1.2"/>
<circle cx="225.60" cy="563.7" r="4.6" fill="none" stroke="#FF0000" stroke-width="1.2"/>
<circle cx="225.60" cy="566.6" r="4.6" fill="none" stroke="#FF0000" stroke-width="1.2"/>
<circle cx="225.60" cy="570.4" r="4.6" fill="none" stroke="#FF0000" stroke-width="1.2"/>
<circle cx="225.60" cy="574.2" r="4.6" fill="none" stroke="#FF0000" stroke-width="1.2"/>
<circle cx="225.60" cy="577.9" r="4.6" fill="none" stroke="#FF0000" stroke-width="1.2"/>
<circle cx="225.60" cy="581.7" r="4.6" fill="none" stroke="#FF0000" stroke-width="1.2"/>
<circle cx="225.60" cy="583.6" r="4.6" fill="none" stroke="#FF0000" stroke-width="1.2"/>
<circle cx="225.60" cy="589.3" r="4.6" fill="none" stroke="#FF0000" stroke-width="1.2"/>
<circle cx="225.60" cy="596.9" r="4.6" fill="none" stroke="#FF0000" stroke-width="1.2"/>
<circle cx="225.60" cy="601.7" r="4.6" fill="none" stroke="#FF0000" stroke-width="1.2"/>
<circle cx="275.30" cy="563.7" r="4.6" fill="none" stroke="#FF0000" stroke-width="1.2"/>
<circle cx="275.30" cy="574.2" r="4.6" fill="none" stroke="#FF0000" stroke-width="1.2"/>
<circle cx="275.30" cy="577.9" r="4.6" fill="none" stroke="#FF0000" stroke-width="1.2"/>
<circle cx="275.30" cy="580.8" r="4.6" fill="none" stroke="#FF0000" stroke-width="1.2"/>
<circle cx="275.30" cy="583.6" r="4.6" fill="none" stroke="#FF0000" stroke-width="1.2"/>
<circle cx="275.30" cy="587.4" r="4.6" fill="none" stroke="#FF0000" stroke-width="1.2"/>
<circle cx="275.30" cy="591.2" r="4.6" fill="none" stroke="#FF0000" stroke-width="1.2"/>
<circle cx="275.30" cy="595.0" r="4.6" fill="none" stroke="#FF0000" stroke-width="1.2"/>
<circle cx="275.30" cy="598.8" r="4.6" fill="none" stroke="#FF0000" stroke-width="1.2"/>
<circle cx="275.30" cy="603.6" r="4.6" fill="none" stroke="#FF0000" stroke-width="1.2"/>
<circle cx="325.00" cy="566.6" r="4.6" fill="none" stroke="#FF0000" stroke-width="1.2"/>
<circle cx="325.00" cy="569.4" r="4.6" fill="none" stroke="#FF0000" stroke-width="1.2"/>
<circle cx="325.00" cy="573.2" r="4.6" fill="none" stroke="#FF0000" stroke-width="1.2"/>
<circle cx="325.00" cy="576.1" r="4.6" fill="none" stroke="#FF0000" stroke-width="1.2"/>
<circle cx="325.00" cy="578.9" r="4.6" fill="none" stroke="#FF0000" stroke-width="1.2"/>
<circle cx="325.00" cy="581.7" r="4.6" fill="none" stroke="#FF0000" stroke-width="1.2"/>
<circle cx="325.00" cy="584.6" r="4.6" fill="none" stroke="#FF0000" stroke-width="1.2"/>
<circle cx="325.00" cy="596.9" r="4.6" fill="none" stroke="#FF0000" stroke-width="1.2"/>
<circle cx="325.00" cy="611.2" r="4.6" fill="none" stroke="#FF0000" stroke-width="1.2"/>
<circle cx="325.00" cy="615.9" r="4.6" fill="none" stroke="#FF0000" stroke-width="1.2"/>
<circle cx="374.70" cy="574.4" r="4.6" fill="none" stroke="#FF0000" stroke-width="1.2"/>
<circle cx="374.70" cy="576.8" r="4.6" fill="none" stroke="#FF0000" stroke-width="1.2"/>
<circle cx="374.70" cy="594.4" r="4.6" fill="none" stroke="#FF0000" stroke-width="1.2"/>
<circle cx="374.70" cy="619.0" r="4.6" fill="none" stroke="#FF0000" stroke-width="1.2"/>
<circle cx="424.40" cy="572.8" r="4.6" fill="none" stroke="#FF0000" stroke-width="1.2"/>
<circle cx="424.40" cy="578.0" r="4.6" fill="none" stroke="#FF0000" stroke-width="1.2"/>
<circle cx="424.40" cy="582.7" r="4.6" fill="none" stroke="#FF0000" stroke-width="1.2"/>
<circle cx="424.40" cy="605.6" r="4.6" fill="none" stroke="#FF0000" stroke-width="1.2"/>
<circle cx="424.40" cy="619.0" r="4.6" fill="none" stroke="#FF0000" stroke-width="1.2"/>
<circle cx="474.10" cy="576.8" r="4.6" fill="none" stroke="#FF0000" stroke-width="1.2"/>
<circle cx="474.10" cy="580.3" r="4.6" fill="none" stroke="#FF0000" stroke-width="1.2"/>
<circle cx="474.10" cy="594.4" r="4.6" fill="none" stroke="#FF0000" stroke-width="1.2"/>
<circle cx="474.10" cy="614.3" r="4.6" fill="none" stroke="#FF0000" stroke-width="1.2"/>
<circle cx="474.10" cy="622.5" r="4.6" fill="none" stroke="#FF0000" stroke-width="1.2"/>
<circle cx="126.20" cy="529.9" r="4.6" fill="none" stroke="#FF0000" stroke-width="1.2"/>
<circle cx="126.20" cy="534.1" r="4.6" fill="none" stroke="#FF0000" stroke-width="1.2"/>
<circle cx="126.20" cy="538.1" r="4.6" fill="none" stroke="#FF0000" stroke-width="1.2"/>
<circle cx="126.20" cy="545.2" r="4.6" fill="none" stroke="#FF0000" stroke-width="1.2"/>
<circle cx="126.20" cy="556.2" r="4.6" fill="none" stroke="#FF0000" stroke-width="1.2"/>
<circle cx="126.20" cy="566.2" r="4.6" fill="none" stroke="#FF0000" stroke-width="1.2"/>
<path d="M120.20,606.20 L132.20,606.20 L126.20,597.20 Z" fill="none" stroke="#0000FF" stroke-width="1.1"/>
<path d="M120.20,608.90 L132.20,608.90 L126.20,599.90 Z" fill="none" stroke="#0000FF" stroke-width="1.1"/>
<path d="M120.20,615.20 L132.20,615.20 L126.20,606.20 Z" fill="none" stroke="#0000FF" stroke-width="1.1"/>
<path d="M120.20,618.30 L132.20,618.30 L126.20,609.30 Z" fill="none" stroke="#0000FF" stroke-width="1.1"/>
<path d="M120.20,623.40 L132.20,623.40 L126.20,614.40 Z" fill="none" stroke="#0000FF" stroke-width="1.1"/>
<path d="M120.20,627.70 L132.20,627.70 L126.20,618.70 Z" fill="none" stroke="#0000FF" stroke-width="1.1"/>
<path d="M120.20,636.30 L132.20,636.30 L126.20,627.30 Z" fill="none" stroke="#0000FF" stroke-width="1.1"/>
<path d="M120.20,643.30 L132.20,643.30 L126.20,634.30 Z" fill="none" stroke="#0000FF" stroke-width="1.1"/>
<path d="M120.20,647.20 L132.20,647.20 L126.20,638.20 Z" fill="none" stroke="#0000FF" stroke-width="1.1"/>
<path d="M169.90,617.80 L181.90,617.80 L175.90,608.80 Z" fill="none" stroke="#0000FF" stroke-width="1.1"/>
<path d="M169.90,620.50 L181.90,620.50 L175.90,611.50 Z" fill="none" stroke="#0000FF" stroke-width="1.1"/>
<path d="M169.90,622.40 L181.90,622.40 L175.90,613.40 Z" fill="none" stroke="#0000FF" stroke-width="1.1"/>
<path d="M169.90,625.20 L181.90,625.20 L175.90,616.20 Z" fill="none" stroke="#0000FF" stroke-width="1.1"/>
<path d="M169.90,627.10 L181.90,627.10 L175.90,618.10 Z" fill="none" stroke="#0000FF" stroke-width="1.1"/>
<path d="M169.90,629.10 L181.90,629.10 L175.90,620.10 Z" fill="none" stroke="#0000FF" stroke-width="1.1"/>
<path d="M169.90,635.30 L181.90,635.30 L175.90,626.30 Z" fill="none" stroke="#0000FF" stroke-width="1.1"/>
<path d="M169.90,640.00 L181.90,640.00 L175.90,631.00 Z" fill="none" stroke="#0000FF" stroke-width="1.1"/>
<path d="M169.90,643.90 L181.90,643.90 L175.90,634.90 Z" fill="none" stroke="#0000FF" stroke-width="1.1"/>
<path d="M169.90,646.70 L181.90,646.70 L175.90,637.70 Z" fill="none" stroke="#0000FF" stroke-width="1.1"/>
<path d="M169.90,652.90 L181.90,652.90 L175.90,643.90 Z" fill="none" stroke="#0000FF" stroke-width="1.1"/>
<path d="M219.60,636.00 L231.60,636.00 L225.60,627.00 Z" fill="none" stroke="#0000FF" stroke-width="1.1"/>
<path d="M219.60,639.50 L231.60,639.50 L225.60,630.50 Z" fill="none" stroke="#0000FF" stroke-width="1.1"/>
<path d="M219.60,643.00 L231.60,643.00 L225.60,634.00 Z" fill="none" stroke="#0000FF" stroke-width="1.1"/>
<path d="M219.60,645.30 L231.60,645.30 L225.60,636.30 Z" fill="none" stroke="#0000FF" stroke-width="1.1"/>
<path d="M219.60,648.80 L231.60,648.80 L225.60,639.80 Z" fill="none" stroke="#0000FF" stroke-width="1.1"/>
<path d="M219.60,651.20 L231.60,651.20 L225.60,642.20 Z" fill="none" stroke="#0000FF" stroke-width="1.1"/>
<path d="M219.60,657.00 L231.60,657.00 L225.60,648.00 Z" fill="none" stroke="#0000FF" stroke-width="1.1"/>
<path d="M219.60,661.70 L231.60,661.70 L225.60,652.70 Z" fill="none" stroke="#0000FF" stroke-width="1.1"/>
<path d="M269.30,641.80 L281.30,641.80 L275.30,632.80 Z" fill="none" stroke="#0000FF" stroke-width="1.1"/>
<path d="M269.30,647.70 L281.30,647.70 L275.30,638.70 Z" fill="none" stroke="#0000FF" stroke-width="1.1"/>
<path d="M269.30,652.40 L281.30,652.40 L275.30,643.40 Z" fill="none" stroke="#0000FF" stroke-width="1.1"/>
<path d="M269.30,657.00 L281.30,657.00 L275.30,648.00 Z" fill="none" stroke="#0000FF" stroke-width="1.1"/>
<path d="M269.30,665.20 L281.30,665.20 L275.30,656.20 Z" fill="none" stroke="#0000FF" stroke-width="1.1"/>
<path d="M319.00,639.50 L331.00,639.50 L325.00,630.50 Z" fill="none" stroke="#0000FF" stroke-width="1.1"/>
<path d="M319.00,645.30 L331.00,645.30 L325.00,636.30 Z" fill="none" stroke="#0000FF" stroke-width="1.1"/>
<path d="M319.00,650.00 L331.00,650.00 L325.00,641.00 Z" fill="none" stroke="#0000FF" stroke-width="1.1"/>
<path d="M319.00,654.70 L331.00,654.70 L325.00,645.70 Z" fill="none" stroke="#0000FF" stroke-width="1.1"/>
<path d="M319.00,661.70 L331.00,661.70 L325.00,652.70 Z" fill="none" stroke="#0000FF" stroke-width="1.1"/>
<path d="M319.00,673.40 L331.00,673.40 L325.00,664.40 Z" fill="none" stroke="#0000FF" stroke-width="1.1"/>
<path d="M368.70,640.60 L380.70,640.60 L374.70,631.60 Z" fill="none" stroke="#0000FF" stroke-width="1.1"/>
<path d="M368.70,649.50 L380.70,649.50 L374.70,640.50 Z" fill="none" stroke="#0000FF" stroke-width="1.1"/>
<path d="M418.40,640.60 L430.40,640.60 L424.40,631.60 Z" fill="none" stroke="#0000FF" stroke-width="1.1"/>
<path d="M418.40,644.20 L430.40,644.20 L424.40,635.20 Z" fill="none" stroke="#0000FF" stroke-width="1.1"/>
<path d="M418.40,647.70 L430.40,647.70 L424.40,638.70 Z" fill="none" stroke="#0000FF" stroke-width="1.1"/>
<path d="M418.40,665.20 L430.40,665.20 L424.40,656.20 Z" fill="none" stroke="#0000FF" stroke-width="1.1"/>
<path d="M468.10,640.00 L480.10,640.00 L474.10,631.00 Z" fill="none" stroke="#0000FF" stroke-width="1.1"/>
<path d="M468.10,642.90 L480.10,642.90 L474.10,633.90 Z" fill="none" stroke="#0000FF" stroke-width="1.1"/>
<path d="M468.10,645.70 L480.10,645.70 L474.10,636.70 Z" fill="none" stroke="#0000FF" stroke-width="1.1"/>
<path d="M468.10,648.60 L480.10,648.60 L474.10,639.60 Z" fill="none" stroke="#0000FF" stroke-width="1.1"/>
<path d="M468.10,652.40 L480.10,652.40 L474.10,643.40 Z" fill="none" stroke="#0000FF" stroke-width="1.1"/>
<path d="M627.80,637.50 L639.80,637.50 L633.80,628.50 Z" fill="none" stroke="#0000FF" stroke-width="1.1"/>
<path d="M627.80,641.80 L639.80,641.80 L633.80,632.80 Z" fill="none" stroke="#0000FF" stroke-width="1.1"/>
<path d="M627.80,646.60 L639.80,646.60 L633.80,637.60 Z" fill="none" stroke="#0000FF" stroke-width="1.1"/>
<path d="M627.80,653.20 L639.80,653.20 L633.80,644.20 Z" fill="none" stroke="#0000FF" stroke-width="1.1"/>
<line x1="452" y1="632" x2="452" y2="556" stroke="#FF0000" stroke-width="2"/>
<path d="M452,547.5 L446.8,558 L452,556 L457.2,558 Z" fill="#FF0000"/>
<line x1="609" y1="689.3" x2="609" y2="618" stroke="#0000FF" stroke-width="2"/>
<path d="M609,609.1 L603.8,619.6 L609,617.6 L614.2,619.6 Z" fill="#0000FF"/>
<path d="M77.8,502.8 H683.3 V703.5 H584.5 M572.5,703.5 H77.8 Z" fill="none" stroke="#000" stroke-width="2.1"/>
<line x1="77.8" y1="502.8" x2="77.8" y2="703.5" stroke="#000" stroke-width="2.1"/>
<line x1="568.2" y1="709" x2="578.7" y2="698.2" stroke="#000" stroke-width="1.9"/>
<line x1="579.0" y1="709" x2="589.5" y2="698.2" stroke="#000" stroke-width="1.9"/>
<line x1="77.8" y1="688.95" x2="81.8" y2="688.95" stroke="#000" stroke-width="1.8"/>
<line x1="77.8" y1="678.85" x2="81.8" y2="678.85" stroke="#000" stroke-width="1.8"/>
<line x1="77.8" y1="671.02" x2="81.8" y2="671.02" stroke="#000" stroke-width="1.8"/>
<line x1="77.8" y1="664.63" x2="81.8" y2="664.63" stroke="#000" stroke-width="1.8"/>
<line x1="77.8" y1="659.22" x2="81.8" y2="659.22" stroke="#000" stroke-width="1.8"/>
<line x1="77.8" y1="654.53" x2="81.8" y2="654.53" stroke="#000" stroke-width="1.8"/>
<line x1="77.8" y1="650.40" x2="81.8" y2="650.40" stroke="#000" stroke-width="1.8"/>
<line x1="77.8" y1="622.38" x2="81.8" y2="622.38" stroke="#000" stroke-width="1.8"/>
<line x1="77.8" y1="608.15" x2="81.8" y2="608.15" stroke="#000" stroke-width="1.8"/>
<line x1="77.8" y1="598.05" x2="81.8" y2="598.05" stroke="#000" stroke-width="1.8"/>
<line x1="77.8" y1="590.22" x2="81.8" y2="590.22" stroke="#000" stroke-width="1.8"/>
<line x1="77.8" y1="583.83" x2="81.8" y2="583.83" stroke="#000" stroke-width="1.8"/>
<line x1="77.8" y1="578.42" x2="81.8" y2="578.42" stroke="#000" stroke-width="1.8"/>
<line x1="77.8" y1="573.73" x2="81.8" y2="573.73" stroke="#000" stroke-width="1.8"/>
<line x1="77.8" y1="569.60" x2="81.8" y2="569.60" stroke="#000" stroke-width="1.8"/>
<line x1="77.8" y1="541.58" x2="81.8" y2="541.58" stroke="#000" stroke-width="1.8"/>
<line x1="77.8" y1="527.35" x2="81.8" y2="527.35" stroke="#000" stroke-width="1.8"/>
<line x1="77.8" y1="517.25" x2="81.8" y2="517.25" stroke="#000" stroke-width="1.8"/>
<line x1="77.8" y1="509.42" x2="81.8" y2="509.42" stroke="#000" stroke-width="1.8"/>
<line x1="77.8" y1="646.70" x2="86.8" y2="646.70" stroke="#000" stroke-width="2"/>
<line x1="77.8" y1="565.90" x2="86.8" y2="565.90" stroke="#000" stroke-width="2"/>
<line x1="126.20" y1="703.5" x2="126.20" y2="694.5" stroke="#000" stroke-width="1.8"/>
<line x1="225.60" y1="703.5" x2="225.60" y2="694.5" stroke="#000" stroke-width="1.8"/>
<line x1="325.00" y1="703.5" x2="325.00" y2="694.5" stroke="#000" stroke-width="1.8"/>
<line x1="424.40" y1="703.5" x2="424.40" y2="694.5" stroke="#000" stroke-width="1.8"/>
<line x1="523.80" y1="703.5" x2="523.80" y2="694.5" stroke="#000" stroke-width="1.8"/>
<line x1="175.90" y1="703.5" x2="175.90" y2="699.5" stroke="#000" stroke-width="1.8"/>
<line x1="275.30" y1="703.5" x2="275.30" y2="699.5" stroke="#000" stroke-width="1.8"/>
<line x1="374.70" y1="703.5" x2="374.70" y2="699.5" stroke="#000" stroke-width="1.8"/>
<line x1="474.10" y1="703.5" x2="474.10" y2="699.5" stroke="#000" stroke-width="1.8"/>
<line x1="633.8" y1="703.5" x2="633.8" y2="694.5" stroke="#000" stroke-width="1.8"/>
<text x="66.5" y="571.3000000000001" font-size="19.5" fill="#000" text-anchor="end" >10</text>
<text x="67.5" y="652.5" font-size="19.5" fill="#000" text-anchor="end" >1</text>
<text x="126.20" y="728.9" font-size="19.5" fill="#000" text-anchor="middle" >2</text>
<text x="225.60" y="728.9" font-size="19.5" fill="#000" text-anchor="middle" >4</text>
<text x="325.00" y="728.9" font-size="19.5" fill="#000" text-anchor="middle" >6</text>
<text x="424.40" y="728.9" font-size="19.5" fill="#000" text-anchor="middle" >8</text>
<text x="523.80" y="728.9" font-size="19.5" fill="#000" text-anchor="middle" >10</text>
<text x="639.4" y="728.9" font-size="19.5" fill="#000" text-anchor="middle" >bulk</text>
<text x="295.2" y="762.8" font-size="22">Layer number (<tspan font-style="italic">N</tspan>)</text>
<text transform="translate(34.8,667.8) rotate(-90)" font-size="21.8">FWHM (cm<tspan font-size="12.5" dy="-8.5" dx="0.5">-1</tspan><tspan dy="8.5" dx="1">)</tspan></text>
<text x="406" y="538.1" font-size="19.5" fill="#000" text-anchor="start" >Compress</text>
<text x="514" y="584" font-size="19.5" fill="#FF0000">LB<tspan font-size="13" dy="5"><tspan font-style="italic">N</tspan>,<tspan font-style="italic">N</tspan>-1</tspan></text>
<text x="514" y="607.4" font-size="19.5" fill="#FF0000" text-anchor="start" >Exp.</text>
<text x="620" y="587.4" font-size="19.5" fill="#0000FF">S<tspan font-size="13" dy="5"><tspan font-style="italic">N</tspan>,1</tspan></text>
<text x="620" y="611" font-size="19.5" fill="#0000FF" text-anchor="start" >Exp.</text>
<path d="M37.52,19.46 L41.79,19.46 L41.79,16.55 L37.52,16.55 Z" fill="#fff"/>
<path d="M43.65,19.46 L47.52,19.46 L47.52,16.55 L43.65,16.55 Z" fill="#fff"/>
<path d="M255.11,440.56 L259.38,440.56 L259.38,437.65 L255.11,437.65 Z" fill="#fff"/>
<path d="M261.23,440.56 L265.11,440.56 L265.11,437.65 L261.23,437.65 Z" fill="#fff"/>
<path d="M457.01,440.56 L461.28,440.56 L461.28,437.65 L457.01,437.65 Z" fill="#fff"/>
<path d="M463.13,440.56 L467.01,440.56 L467.01,437.65 L463.13,437.65 Z" fill="#fff"/>
<path d="M659.21,440.56 L663.48,440.56 L663.48,437.65 L659.21,437.65 Z" fill="#fff"/>
<path d="M665.33,440.56 L669.21,440.56 L669.21,437.65 L665.33,437.65 Z" fill="#fff"/>
<path d="M27.25,116.49 L27.25,113.76 L25.39,113.76 L25.39,116.49 Z" fill="#fff"/>
<path d="M27.25,112.57 L27.25,110.08 L25.39,110.08 L25.39,112.57 Z" fill="#fff"/>
<path d="M143.17,42.87 L146.02,42.87 L146.02,40.94 L143.17,40.94 Z" fill="#fff"/>
<path d="M147.26,42.87 L149.84,42.87 L149.84,40.94 L147.26,40.94 Z" fill="#fff"/>
<path d="M118.60,243.57 L121.44,243.57 L121.44,241.64 L118.60,241.64 Z" fill="#fff"/>
<path d="M122.68,243.57 L125.26,243.57 L125.26,241.64 L122.68,241.64 Z" fill="#fff"/>
<path d="M346.07,42.87 L348.92,42.87 L348.92,40.94 L346.07,40.94 Z" fill="#fff"/>
<path d="M350.16,42.87 L352.74,42.87 L352.74,40.94 L350.16,40.94 Z" fill="#fff"/>
<path d="M321.50,243.57 L324.34,243.57 L324.34,241.64 L321.50,241.64 Z" fill="#fff"/>
<path d="M325.58,243.57 L328.16,243.57 L328.16,241.64 L325.58,241.64 Z" fill="#fff"/>
<path d="M548.17,42.87 L551.02,42.87 L551.02,40.94 L548.17,40.94 Z" fill="#fff"/>
<path d="M552.26,42.87 L554.84,42.87 L554.84,40.94 L552.26,40.94 Z" fill="#fff"/>
<path d="M523.60,243.57 L526.44,243.57 L526.44,241.64 L523.60,241.64 Z" fill="#fff"/>
<path d="M527.68,243.57 L530.26,243.57 L530.26,241.64 L527.68,241.64 Z" fill="#fff"/>
<path d="M45.37,572.16 L49.63,572.16 L49.63,569.25 L45.37,569.25 Z" fill="#fff"/>
<path d="M51.49,572.16 L55.37,572.16 L55.37,569.25 L51.49,569.25 Z" fill="#fff"/>
<path d="M57.21,653.36 L61.48,653.36 L61.48,650.45 L57.21,650.45 Z" fill="#fff"/>
<path d="M63.33,653.36 L67.21,653.36 L67.21,650.45 L63.33,650.45 Z" fill="#fff"/>
<path d="M513.52,729.76 L517.79,729.76 L517.79,726.85 L513.52,726.85 Z" fill="#fff"/>
<path d="M519.64,729.76 L523.52,729.76 L523.52,726.85 L519.64,726.85 Z" fill="#fff"/>
<path d="M26.85,552.62 L26.85,549.89 L24.99,549.89 L24.99,552.62 Z" fill="#fff"/>
<path d="M26.85,548.70 L26.85,546.21 L24.99,546.21 L24.99,548.70 Z" fill="#fff"/>
<path d="M564.97,589.57 L567.82,589.57 L567.82,587.64 L564.97,587.64 Z" fill="#fff"/>
<path d="M569.06,589.57 L571.64,589.57 L571.64,587.64 L569.06,587.64 Z" fill="#fff"/>
<path d="M646.40,592.97 L649.24,592.97 L649.24,591.04 L646.40,591.04 Z" fill="#fff"/>
<path d="M650.48,592.97 L653.06,592.97 L653.06,591.04 L650.48,591.04 Z" fill="#fff"/>
</svg></body></html>
